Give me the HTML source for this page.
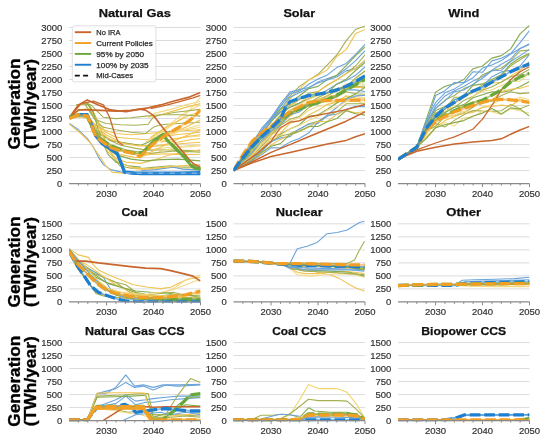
<!DOCTYPE html><html><head><meta charset="utf-8"><style>html,body{margin:0;padding:0;background:#fff;}svg{display:block;will-change:transform;}text{font-family:"Liberation Sans", sans-serif;}</style></head><body>
<svg width="550" height="444" viewBox="0 0 550 444">
<rect width="550" height="444" fill="#fff"/>
<line x1="69.0" y1="170.59" x2="200.5" y2="170.59" stroke="#dcdcdc" stroke-width="1"/>
<line x1="69.0" y1="157.58" x2="200.5" y2="157.58" stroke="#dcdcdc" stroke-width="1"/>
<line x1="69.0" y1="144.57" x2="200.5" y2="144.57" stroke="#dcdcdc" stroke-width="1"/>
<line x1="69.0" y1="131.56" x2="200.5" y2="131.56" stroke="#dcdcdc" stroke-width="1"/>
<line x1="69.0" y1="118.55" x2="200.5" y2="118.55" stroke="#dcdcdc" stroke-width="1"/>
<line x1="69.0" y1="105.54" x2="200.5" y2="105.54" stroke="#dcdcdc" stroke-width="1"/>
<line x1="69.0" y1="92.53" x2="200.5" y2="92.53" stroke="#dcdcdc" stroke-width="1"/>
<line x1="69.0" y1="79.52" x2="200.5" y2="79.52" stroke="#dcdcdc" stroke-width="1"/>
<line x1="69.0" y1="66.51" x2="200.5" y2="66.51" stroke="#dcdcdc" stroke-width="1"/>
<line x1="69.0" y1="53.50" x2="200.5" y2="53.50" stroke="#dcdcdc" stroke-width="1"/>
<line x1="69.0" y1="40.49" x2="200.5" y2="40.49" stroke="#dcdcdc" stroke-width="1"/>
<line x1="69.0" y1="27.48" x2="200.5" y2="27.48" stroke="#dcdcdc" stroke-width="1"/>
<text x="62.40" y="186.80" font-size="9.5" fill="#333" stroke="#333" stroke-width="0.2" text-anchor="end" textLength="5.28" lengthAdjust="spacingAndGlyphs">0</text>
<text x="62.40" y="173.79" font-size="9.5" fill="#333" stroke="#333" stroke-width="0.2" text-anchor="end" textLength="15.84" lengthAdjust="spacingAndGlyphs">250</text>
<text x="62.40" y="160.78" font-size="9.5" fill="#333" stroke="#333" stroke-width="0.2" text-anchor="end" textLength="15.84" lengthAdjust="spacingAndGlyphs">500</text>
<text x="62.40" y="147.77" font-size="9.5" fill="#333" stroke="#333" stroke-width="0.2" text-anchor="end" textLength="15.84" lengthAdjust="spacingAndGlyphs">750</text>
<text x="62.40" y="134.76" font-size="9.5" fill="#333" stroke="#333" stroke-width="0.2" text-anchor="end" textLength="21.12" lengthAdjust="spacingAndGlyphs">1000</text>
<text x="62.40" y="121.75" font-size="9.5" fill="#333" stroke="#333" stroke-width="0.2" text-anchor="end" textLength="21.12" lengthAdjust="spacingAndGlyphs">1250</text>
<text x="62.40" y="108.74" font-size="9.5" fill="#333" stroke="#333" stroke-width="0.2" text-anchor="end" textLength="21.12" lengthAdjust="spacingAndGlyphs">1500</text>
<text x="62.40" y="95.73" font-size="9.5" fill="#333" stroke="#333" stroke-width="0.2" text-anchor="end" textLength="21.12" lengthAdjust="spacingAndGlyphs">1750</text>
<text x="62.40" y="82.72" font-size="9.5" fill="#333" stroke="#333" stroke-width="0.2" text-anchor="end" textLength="21.12" lengthAdjust="spacingAndGlyphs">2000</text>
<text x="62.40" y="69.71" font-size="9.5" fill="#333" stroke="#333" stroke-width="0.2" text-anchor="end" textLength="21.12" lengthAdjust="spacingAndGlyphs">2250</text>
<text x="62.40" y="56.70" font-size="9.5" fill="#333" stroke="#333" stroke-width="0.2" text-anchor="end" textLength="21.12" lengthAdjust="spacingAndGlyphs">2500</text>
<text x="62.40" y="43.69" font-size="9.5" fill="#333" stroke="#333" stroke-width="0.2" text-anchor="end" textLength="21.12" lengthAdjust="spacingAndGlyphs">2750</text>
<text x="62.40" y="30.68" font-size="9.5" fill="#333" stroke="#333" stroke-width="0.2" text-anchor="end" textLength="21.12" lengthAdjust="spacingAndGlyphs">3000</text>
<clipPath id="cp00"><rect x="69.0" y="13.6" width="131.5" height="170.6"/></clipPath>
<g clip-path="url(#cp00)">
<polyline points="69.5,117.3 76.0,107.4 84.7,102.4 90.9,107.4 98.4,122.3 105.9,132.3 115.8,137.2 130.8,138.5 145.7,139.7 160.7,137.2 175.6,134.7 200.5,132.3" fill="none" stroke="#f1c452" stroke-width="1.10" stroke-linejoin="round"/>
<polyline points="69.5,117.3 85.9,117.3 95.9,124.8 103.4,129.8 115.8,133.5 130.8,134.7 148.2,133.5 160.7,132.3 178.1,131.0 200.5,129.8" fill="none" stroke="#f1c452" stroke-width="1.10" stroke-linejoin="round"/>
<polyline points="84.7,103.6 90.9,113.6 95.9,121.1 103.4,127.3 115.8,129.8 130.8,132.3 145.7,133.5 153.2,127.3 160.7,124.8 178.1,123.5 200.5,122.3" fill="none" stroke="#a6b050" stroke-width="1.10" stroke-linejoin="round"/>
<polyline points="145.7,142.2 165.6,129.8 183.1,117.3 200.5,97.4" fill="none" stroke="#f3d985" stroke-width="1.10" stroke-linejoin="round"/>
<polyline points="148.2,139.7 165.6,127.3 185.6,112.3 200.5,104.9" fill="none" stroke="#f3d985" stroke-width="1.10" stroke-linejoin="round"/>
<polyline points="150.7,137.2 170.6,124.8 190.5,114.8 200.5,112.3" fill="none" stroke="#f1c452" stroke-width="1.10" stroke-linejoin="round"/>
<polyline points="148.2,144.7 165.6,137.2 183.1,129.8 200.5,124.8" fill="none" stroke="#f3d985" stroke-width="1.10" stroke-linejoin="round"/>
<polyline points="148.2,147.2 170.6,143.5 190.5,139.7 200.5,138.5" fill="none" stroke="#f1c452" stroke-width="1.10" stroke-linejoin="round"/>
<polyline points="148.2,149.7 170.6,147.2 200.5,144.7" fill="none" stroke="#f3d985" stroke-width="1.10" stroke-linejoin="round"/>
<polyline points="69.5,123.5 78.5,129.8 88.4,139.7 93.4,147.2 98.4,157.1 103.4,164.6 110.8,169.6 123.3,172.6 140.7,172.6" fill="none" stroke="#6aa4da" stroke-width="1.10" stroke-linejoin="round"/>
<polyline points="69.5,124.3 80.9,133.5 90.9,143.5 98.4,154.6 105.9,165.8 112.1,172.1 123.3,173.3 140.7,173.1" fill="none" stroke="#f1c452" stroke-width="1.10" stroke-linejoin="round"/>
<polyline points="76.0,104.9 88.4,103.6 94.6,114.8 100.9,129.8 107.1,144.7 113.3,157.1 119.6,165.8 130.8,168.3 143.2,168.3 155.7,167.1 170.6,165.8 180.6,167.1 200.5,167.1" fill="none" stroke="#a6b050" stroke-width="1.10" stroke-linejoin="round"/>
<polyline points="135.7,170.1 155.7,168.6 173.1,166.6 183.1,168.6 200.5,169.6" fill="none" stroke="#f3d985" stroke-width="1.10" stroke-linejoin="round"/>
<polyline points="140.7,170.8 155.7,169.6 173.1,167.1 183.1,169.1 200.5,170.1" fill="none" stroke="#6aa4da" stroke-width="1.10" stroke-linejoin="round"/>
<polyline points="69.5,117.3 80.9,103.6 90.9,104.9 103.4,117.3 115.8,118.6 130.8,117.8 145.7,116.1 160.7,114.8 175.6,112.3 200.5,109.4" fill="none" stroke="#a6b050" stroke-width="1.10" stroke-linejoin="round"/>
<polyline points="95.9,124.8 105.9,134.7 120.8,142.2 135.7,144.7 148.2,146.7 165.6,145.2 183.1,143.5 200.5,142.2" fill="none" stroke="#f1c452" stroke-width="1.10" stroke-linejoin="round"/>
<polyline points="95.9,127.3 108.3,139.7 120.8,145.2 135.7,148.4 148.2,150.2 165.6,149.7 200.5,150.9" fill="none" stroke="#a6b050" stroke-width="1.10" stroke-linejoin="round"/>
<polyline points="93.4,129.8 105.9,144.7 120.8,154.6 135.7,157.6 148.2,154.6 165.6,153.7 180.6,154.6 200.5,154.2" fill="none" stroke="#f1c452" stroke-width="1.10" stroke-linejoin="round"/>
<polyline points="90.9,119.8 100.9,134.7 113.3,141.0 128.3,143.5 140.7,145.2 148.2,142.2 160.7,134.7 170.6,131.0" fill="none" stroke="#86aa4c" stroke-width="1.10" stroke-linejoin="round"/>
<polyline points="69.5,117.3 79.7,109.9 89.7,108.6 97.1,119.8 103.4,137.2 109.6,150.9 115.8,158.4 125.8,162.1 140.7,163.4 155.7,159.6 170.6,154.6 200.5,149.7" fill="none" stroke="#f1c452" stroke-width="1.10" stroke-linejoin="round"/>
<polyline points="87.2,103.6 93.4,112.3 98.4,129.8 103.4,144.7 108.3,154.6 115.8,162.1 128.3,165.8 140.7,167.1" fill="none" stroke="#86aa4c" stroke-width="1.10" stroke-linejoin="round"/>
<polyline points="150.7,142.2 170.6,139.7 185.6,137.2 200.5,136.0" fill="none" stroke="#f3d985" stroke-width="1.10" stroke-linejoin="round"/>
<polyline points="150.7,154.6 165.6,149.7 180.6,147.2 200.5,145.9" fill="none" stroke="#f3d985" stroke-width="1.10" stroke-linejoin="round"/>
<polyline points="148.2,117.3 160.7,114.8 173.1,111.1 185.6,107.4 200.5,103.6" fill="none" stroke="#f1c452" stroke-width="1.10" stroke-linejoin="round"/>
<polyline points="153.2,113.6 170.6,109.4 185.6,104.9 200.5,101.2" fill="none" stroke="#f3d985" stroke-width="1.10" stroke-linejoin="round"/>
<polyline points="88.4,117.3 98.4,129.8 108.3,138.5 123.3,143.5 138.2,145.9 148.2,145.2 158.2,138.5 170.6,133.5 185.6,127.3 200.5,119.8" fill="none" stroke="#f1c452" stroke-width="1.10" stroke-linejoin="round"/>
<polyline points="90.9,122.3 100.9,137.2 110.8,144.7 125.8,149.7 140.7,152.2 150.7,153.4 160.7,152.2 175.6,150.9 200.5,152.2" fill="none" stroke="#a6b050" stroke-width="1.10" stroke-linejoin="round"/>
<polyline points="93.4,126.0 103.4,141.0 115.8,148.4 130.8,152.2 145.7,154.6 155.7,149.7 170.6,142.2 185.6,136.0 200.5,129.8" fill="none" stroke="#f1c452" stroke-width="1.10" stroke-linejoin="round"/>
<polyline points="95.9,129.8 105.9,147.2 115.8,154.6 130.8,159.1 145.7,160.9 160.7,159.6 178.1,159.1 200.5,160.9" fill="none" stroke="#86aa4c" stroke-width="1.10" stroke-linejoin="round"/>
<polyline points="98.4,137.2 108.3,152.2 118.3,162.1 130.8,167.1 145.7,169.1 160.7,167.6 180.6,165.8 200.5,164.6" fill="none" stroke="#f1c452" stroke-width="1.10" stroke-linejoin="round"/>
<polyline points="89.7,109.9 95.9,119.8 105.9,123.5 120.8,124.8 135.7,125.3 148.2,124.3 153.2,117.3 160.7,114.8 180.6,114.8 200.5,116.1" fill="none" stroke="#a6b050" stroke-width="1.10" stroke-linejoin="round"/>
<polyline points="155.7,137.2 170.6,133.5 185.6,129.8 200.5,127.3" fill="none" stroke="#f3d985" stroke-width="1.10" stroke-linejoin="round"/>
<polyline points="160.7,142.2 175.6,138.5 190.5,136.0 200.5,134.7" fill="none" stroke="#f1c452" stroke-width="1.10" stroke-linejoin="round"/>
<polyline points="69.5,117.3 80.9,103.6 93.4,101.2 103.4,104.9 109.6,117.3 114.6,133.5 118.3,142.2 123.3,145.2" fill="none" stroke="#c8662e" stroke-width="1.30" stroke-linejoin="round"/>
<polyline points="69.5,117.3 78.5,109.9 88.4,109.9 100.9,110.4 115.8,111.1 130.8,110.4 140.0,109.1 145.5,110.1 153.4,115.3 160.4,124.8 167.1,133.0 173.9,141.2 180.6,149.2 185.1,154.6 190.5,161.1 195.0,164.8 200.5,167.1" fill="none" stroke="#c8662e" stroke-width="1.60" stroke-linejoin="round"/>
<polyline points="69.5,117.3 78.5,104.9 87.2,99.9 98.4,104.9 110.8,109.9 125.8,111.8 140.0,109.1 148.2,107.9 160.7,104.9 173.1,101.2 188.1,97.4 200.5,92.4" fill="none" stroke="#c8662e" stroke-width="1.60" stroke-linejoin="round"/>
<polyline points="150.7,108.6 165.6,105.4 180.6,101.4 193.0,97.9 200.5,95.4" fill="none" stroke="#c8662e" stroke-width="1.20" stroke-linejoin="round"/>
<polyline points="69.5,117.3 78.5,114.8 87.2,114.8 90.9,123.5 95.9,136.0 102.1,143.5 109.6,148.4 117.1,153.4 120.8,162.1 124.5,172.1 135.7,173.3 153.2,173.3 178.1,173.3 200.5,172.8" fill="none" stroke="#1f7fcf" stroke-width="3.40" stroke-linejoin="round"/>
<polyline points="124.5,172.6 140.7,174.1 165.6,174.1 200.5,174.1" fill="none" stroke="#1f7fcf" stroke-width="2.50" stroke-linejoin="round"/>
<polyline points="125.8,173.1 200.5,173.1" fill="none" stroke="#9cc6ea" stroke-width="0.55" stroke-linejoin="round" stroke-opacity="0.55"/>
<polyline points="125.8,173.1 200.5,173.1" fill="none" stroke="#9cc6ea" stroke-width="1.00" stroke-linejoin="round" stroke-dasharray="5,6"/>
<polyline points="146.7,147.7 153.4,141.2 160.4,135.7 163.1,134.2 166.9,139.7 173.9,146.4 180.6,153.2 185.1,157.4 190.5,164.8 195.0,167.6 200.5,168.3" fill="none" stroke="#68a83a" stroke-width="2.20" stroke-linejoin="round"/>
<polyline points="147.2,148.7 153.9,142.2 160.9,136.7 163.6,135.2 167.4,140.7 174.4,147.4 181.1,154.2 185.6,158.4 191.0,165.8 195.5,168.6 201.0,169.3" fill="none" stroke="#68a83a" stroke-width="2.20" stroke-linejoin="round"/>
<polyline points="69.5,117.3 78.5,114.8 87.2,116.1 90.9,124.8 94.6,132.8 100.9,139.7 110.8,145.9 123.3,150.9 135.7,153.4 143.2,152.2 147.0,148.2 153.7,141.7 160.7,136.2 163.4,134.7 167.1,140.2 174.1,146.9 180.8,153.7 185.3,157.9 190.8,165.3 195.3,168.1 200.8,168.8" fill="none" stroke="#68a83a" stroke-width="1.81" stroke-linejoin="round" stroke-opacity="0.55"/>
<polyline points="69.5,117.3 78.5,114.8 87.2,116.1 90.9,124.8 94.6,132.8 100.9,139.7 110.8,145.9 123.3,150.9 135.7,153.4 143.2,152.2 147.0,148.2 153.7,141.7 160.7,136.2 163.4,134.7 167.1,140.2 174.1,146.9 180.8,153.7 185.3,157.9 190.8,165.3 195.3,168.1 200.8,168.8" fill="none" stroke="#68a83a" stroke-width="3.30" stroke-linejoin="round" stroke-dasharray="10.7,3.8"/>
<polyline points="69.5,118.6 78.5,114.8 87.2,116.1 90.9,123.5 94.6,133.5 99.6,139.7 109.6,147.2 120.8,150.9 133.3,153.4 140.0,156.6 146.7,150.4 153.4,143.7 160.4,139.0 167.1,134.2 173.9,130.3 180.6,126.3 185.1,123.5 190.5,119.8 195.5,115.3 200.5,109.9" fill="none" stroke="#f29f25" stroke-width="1.81" stroke-linejoin="round" stroke-opacity="0.55"/>
<polyline points="69.5,118.6 78.5,114.8 87.2,116.1 90.9,123.5 94.6,133.5 99.6,139.7 109.6,147.2 120.8,150.9 133.3,153.4 140.0,156.6 146.7,150.4 153.4,143.7 160.4,139.0 167.1,134.2 173.9,130.3 180.6,126.3 185.1,123.5 190.5,119.8 195.5,115.3 200.5,109.9" fill="none" stroke="#f29f25" stroke-width="3.30" stroke-linejoin="round" stroke-dasharray="10.7,3.8"/>
</g>
<line x1="69.0" y1="183.60" x2="200.5" y2="183.60" stroke="#8a8a8a" stroke-width="1.1"/>
<line x1="78.39" y1="183.60" x2="78.39" y2="185.60" stroke="#8a8a8a" stroke-width="1"/>
<line x1="87.79" y1="183.60" x2="87.79" y2="185.60" stroke="#8a8a8a" stroke-width="1"/>
<line x1="97.18" y1="183.60" x2="97.18" y2="185.60" stroke="#8a8a8a" stroke-width="1"/>
<line x1="106.57" y1="183.60" x2="106.57" y2="187.10" stroke="#8a8a8a" stroke-width="1"/>
<line x1="115.96" y1="183.60" x2="115.96" y2="185.60" stroke="#8a8a8a" stroke-width="1"/>
<line x1="125.36" y1="183.60" x2="125.36" y2="185.60" stroke="#8a8a8a" stroke-width="1"/>
<line x1="134.75" y1="183.60" x2="134.75" y2="185.60" stroke="#8a8a8a" stroke-width="1"/>
<line x1="144.14" y1="183.60" x2="144.14" y2="185.60" stroke="#8a8a8a" stroke-width="1"/>
<line x1="153.54" y1="183.60" x2="153.54" y2="187.10" stroke="#8a8a8a" stroke-width="1"/>
<line x1="162.93" y1="183.60" x2="162.93" y2="185.60" stroke="#8a8a8a" stroke-width="1"/>
<line x1="172.32" y1="183.60" x2="172.32" y2="185.60" stroke="#8a8a8a" stroke-width="1"/>
<line x1="181.71" y1="183.60" x2="181.71" y2="185.60" stroke="#8a8a8a" stroke-width="1"/>
<line x1="191.11" y1="183.60" x2="191.11" y2="185.60" stroke="#8a8a8a" stroke-width="1"/>
<line x1="200.50" y1="183.60" x2="200.50" y2="187.10" stroke="#8a8a8a" stroke-width="1"/>
<text x="106.57" y="196.80" font-size="9.5" fill="#333" stroke="#333" stroke-width="0.2" text-anchor="middle" textLength="21.12" lengthAdjust="spacingAndGlyphs">2030</text>
<text x="153.54" y="196.80" font-size="9.5" fill="#333" stroke="#333" stroke-width="0.2" text-anchor="middle" textLength="21.12" lengthAdjust="spacingAndGlyphs">2040</text>
<text x="200.50" y="196.80" font-size="9.5" fill="#333" stroke="#333" stroke-width="0.2" text-anchor="middle" textLength="21.12" lengthAdjust="spacingAndGlyphs">2050</text>
<text x="134.75" y="16.60" font-size="11.6" font-weight="bold" fill="#111" stroke="#111" stroke-width="0.25" text-anchor="middle" textLength="72.17" lengthAdjust="spacingAndGlyphs">Natural Gas</text>
<line x1="233.5" y1="170.59" x2="365.0" y2="170.59" stroke="#dcdcdc" stroke-width="1"/>
<line x1="233.5" y1="157.58" x2="365.0" y2="157.58" stroke="#dcdcdc" stroke-width="1"/>
<line x1="233.5" y1="144.57" x2="365.0" y2="144.57" stroke="#dcdcdc" stroke-width="1"/>
<line x1="233.5" y1="131.56" x2="365.0" y2="131.56" stroke="#dcdcdc" stroke-width="1"/>
<line x1="233.5" y1="118.55" x2="365.0" y2="118.55" stroke="#dcdcdc" stroke-width="1"/>
<line x1="233.5" y1="105.54" x2="365.0" y2="105.54" stroke="#dcdcdc" stroke-width="1"/>
<line x1="233.5" y1="92.53" x2="365.0" y2="92.53" stroke="#dcdcdc" stroke-width="1"/>
<line x1="233.5" y1="79.52" x2="365.0" y2="79.52" stroke="#dcdcdc" stroke-width="1"/>
<line x1="233.5" y1="66.51" x2="365.0" y2="66.51" stroke="#dcdcdc" stroke-width="1"/>
<line x1="233.5" y1="53.50" x2="365.0" y2="53.50" stroke="#dcdcdc" stroke-width="1"/>
<line x1="233.5" y1="40.49" x2="365.0" y2="40.49" stroke="#dcdcdc" stroke-width="1"/>
<line x1="233.5" y1="27.48" x2="365.0" y2="27.48" stroke="#dcdcdc" stroke-width="1"/>
<text x="226.90" y="186.80" font-size="9.5" fill="#333" stroke="#333" stroke-width="0.2" text-anchor="end" textLength="5.28" lengthAdjust="spacingAndGlyphs">0</text>
<text x="226.90" y="173.79" font-size="9.5" fill="#333" stroke="#333" stroke-width="0.2" text-anchor="end" textLength="15.84" lengthAdjust="spacingAndGlyphs">250</text>
<text x="226.90" y="160.78" font-size="9.5" fill="#333" stroke="#333" stroke-width="0.2" text-anchor="end" textLength="15.84" lengthAdjust="spacingAndGlyphs">500</text>
<text x="226.90" y="147.77" font-size="9.5" fill="#333" stroke="#333" stroke-width="0.2" text-anchor="end" textLength="15.84" lengthAdjust="spacingAndGlyphs">750</text>
<text x="226.90" y="134.76" font-size="9.5" fill="#333" stroke="#333" stroke-width="0.2" text-anchor="end" textLength="21.12" lengthAdjust="spacingAndGlyphs">1000</text>
<text x="226.90" y="121.75" font-size="9.5" fill="#333" stroke="#333" stroke-width="0.2" text-anchor="end" textLength="21.12" lengthAdjust="spacingAndGlyphs">1250</text>
<text x="226.90" y="108.74" font-size="9.5" fill="#333" stroke="#333" stroke-width="0.2" text-anchor="end" textLength="21.12" lengthAdjust="spacingAndGlyphs">1500</text>
<text x="226.90" y="95.73" font-size="9.5" fill="#333" stroke="#333" stroke-width="0.2" text-anchor="end" textLength="21.12" lengthAdjust="spacingAndGlyphs">1750</text>
<text x="226.90" y="82.72" font-size="9.5" fill="#333" stroke="#333" stroke-width="0.2" text-anchor="end" textLength="21.12" lengthAdjust="spacingAndGlyphs">2000</text>
<text x="226.90" y="69.71" font-size="9.5" fill="#333" stroke="#333" stroke-width="0.2" text-anchor="end" textLength="21.12" lengthAdjust="spacingAndGlyphs">2250</text>
<text x="226.90" y="56.70" font-size="9.5" fill="#333" stroke="#333" stroke-width="0.2" text-anchor="end" textLength="21.12" lengthAdjust="spacingAndGlyphs">2500</text>
<text x="226.90" y="43.69" font-size="9.5" fill="#333" stroke="#333" stroke-width="0.2" text-anchor="end" textLength="21.12" lengthAdjust="spacingAndGlyphs">2750</text>
<text x="226.90" y="30.68" font-size="9.5" fill="#333" stroke="#333" stroke-width="0.2" text-anchor="end" textLength="21.12" lengthAdjust="spacingAndGlyphs">3000</text>
<clipPath id="cp01"><rect x="233.5" y="13.6" width="131.5" height="170.6"/></clipPath>
<g clip-path="url(#cp01)">
<polyline points="233.5,170.6 242.9,158.4 252.3,146.1 261.7,133.2 271.1,120.2 280.5,105.6 289.9,96.1 299.2,86.6 308.6,80.1 318.0,74.3 327.4,64.9 336.8,55.0 346.2,40.6 355.6,29.5 365.0,26.0" fill="none" stroke="#a6b050" stroke-width="1.10" stroke-linejoin="round"/>
<polyline points="233.5,170.6 242.9,158.9 252.3,147.2 261.7,134.5 271.1,119.6 280.5,111.2 289.9,99.0 299.2,89.3 308.6,80.0 318.0,75.3 327.4,69.6 336.8,56.5 346.2,49.6 355.6,33.6 365.0,29.5" fill="none" stroke="#f1c452" stroke-width="1.10" stroke-linejoin="round"/>
<polyline points="233.5,170.6 242.9,156.3 252.3,142.0 261.7,130.6 271.1,117.7 280.5,106.4 289.9,93.7 299.2,91.4 308.6,84.3 318.0,78.9 327.4,74.9 336.8,67.6 346.2,63.4 355.6,54.3 365.0,44.5" fill="none" stroke="#6aa4da" stroke-width="1.10" stroke-linejoin="round"/>
<polyline points="233.5,170.6 242.9,157.3 252.3,144.0 261.7,130.5 271.1,118.9 280.5,109.0 289.9,97.3 299.2,92.7 308.6,88.3 318.0,82.0 327.4,78.6 336.8,75.5 346.2,68.8 355.6,60.7 365.0,50.7" fill="none" stroke="#6aa4da" stroke-width="1.10" stroke-linejoin="round"/>
<polyline points="233.5,170.6 242.9,158.9 252.3,147.2 261.7,133.1 271.1,122.1 280.5,109.0 289.9,103.2 299.2,96.0 308.6,88.7 318.0,86.4 327.4,79.6 336.8,75.2 346.2,65.7 355.6,55.6 365.0,46.9" fill="none" stroke="#86aa4c" stroke-width="1.10" stroke-linejoin="round"/>
<polyline points="233.5,170.6 242.9,156.8 252.3,143.0 261.7,128.2 271.1,117.9 280.5,103.8 289.9,92.1 299.2,89.6 308.6,87.5 318.0,83.1 327.4,80.0 336.8,77.0 346.2,70.9 355.6,68.6 365.0,60.4" fill="none" stroke="#6aa4da" stroke-width="1.10" stroke-linejoin="round"/>
<polyline points="233.5,170.6 242.9,159.1 252.3,147.7 261.7,135.0 271.1,121.4 280.5,112.6 289.9,105.5 299.2,99.8 308.6,93.3 318.0,91.6 327.4,84.9 336.8,79.8 346.2,73.5 355.6,66.0 365.0,54.8" fill="none" stroke="#a6b050" stroke-width="1.10" stroke-linejoin="round"/>
<polyline points="233.5,170.6 242.9,159.4 252.3,148.2 261.7,138.5 271.1,126.5 280.5,116.5 289.9,104.8 299.2,103.3 308.6,96.4 318.0,91.5 327.4,85.5 336.8,79.8 346.2,73.7 355.6,68.6 365.0,60.1" fill="none" stroke="#f1c452" stroke-width="1.10" stroke-linejoin="round"/>
<polyline points="233.5,170.6 242.9,158.4 252.3,146.1 261.7,134.8 271.1,120.4 280.5,111.7 289.9,107.2 299.2,103.2 308.6,99.0 318.0,95.1 327.4,90.0 336.8,84.3 346.2,80.6 355.6,75.3 365.0,66.9" fill="none" stroke="#6aa4da" stroke-width="1.10" stroke-linejoin="round"/>
<polyline points="233.5,170.6 242.9,159.9 252.3,149.3 261.7,138.4 271.1,126.0 280.5,115.1 289.9,107.2 299.2,103.6 308.6,98.7 318.0,94.3 327.4,93.1 336.8,83.9 346.2,79.2 355.6,70.5 365.0,62.5" fill="none" stroke="#86aa4c" stroke-width="1.10" stroke-linejoin="round"/>
<polyline points="233.5,170.6 242.9,160.2 252.3,149.8 261.7,139.6 271.1,128.9 280.5,121.4 289.9,110.1 299.2,108.1 308.6,103.4 318.0,99.1 327.4,95.7 336.8,90.2 346.2,86.8 355.6,79.3 365.0,70.7" fill="none" stroke="#f3d985" stroke-width="1.10" stroke-linejoin="round"/>
<polyline points="233.5,170.6 242.9,160.4 252.3,150.3 261.7,141.8 271.1,130.1 280.5,122.9 289.9,110.0 299.2,106.8 308.6,104.6 318.0,100.2 327.4,95.8 336.8,91.1 346.2,87.5 355.6,77.9 365.0,71.0" fill="none" stroke="#a6b050" stroke-width="1.10" stroke-linejoin="round"/>
<polyline points="233.5,170.6 242.9,161.0 252.3,151.3 261.7,141.6 271.1,131.6 280.5,124.9 289.9,116.2 299.2,110.2 308.6,105.6 318.0,99.3 327.4,98.8 336.8,95.3 346.2,86.8 355.6,82.8 365.0,78.6" fill="none" stroke="#f1c452" stroke-width="1.10" stroke-linejoin="round"/>
<polyline points="233.5,170.6 242.9,161.5 252.3,152.4 261.7,142.3 271.1,134.8 280.5,124.1 289.9,113.7 299.2,109.6 308.6,105.7 318.0,104.1 327.4,99.9 336.8,96.2 346.2,88.7 355.6,84.6 365.0,78.2" fill="none" stroke="#86aa4c" stroke-width="1.10" stroke-linejoin="round"/>
<polyline points="233.5,170.6 242.9,161.5 252.3,152.4 261.7,141.6 271.1,130.5 280.5,119.2 289.9,109.8 299.2,104.7 308.6,99.2 318.0,95.4 327.4,92.0 336.8,89.9 346.2,83.9 355.6,83.7 365.0,84.3" fill="none" stroke="#f3d985" stroke-width="1.10" stroke-linejoin="round"/>
<polyline points="233.5,170.6 242.9,162.0 252.3,153.4 261.7,144.4 271.1,132.0 280.5,124.0 289.9,114.0 299.2,107.0 308.6,103.7 318.0,97.4 327.4,93.2 336.8,88.7 346.2,86.9 355.6,86.8 365.0,86.0" fill="none" stroke="#a6b050" stroke-width="1.10" stroke-linejoin="round"/>
<polyline points="233.5,170.6 242.9,162.3 252.3,153.9 261.7,144.4 271.1,133.5 280.5,124.1 289.9,115.3 299.2,109.9 308.6,105.8 318.0,101.0 327.4,96.3 336.8,95.4 346.2,88.4 355.6,87.1 365.0,87.6" fill="none" stroke="#f1c452" stroke-width="1.10" stroke-linejoin="round"/>
<polyline points="233.5,170.6 242.9,161.5 252.3,152.4 261.7,140.5 271.1,131.0 280.5,125.0 289.9,114.7 299.2,112.0 308.6,104.9 318.0,101.2 327.4,101.1 336.8,96.8 346.2,89.9 355.6,89.9 365.0,91.5" fill="none" stroke="#6aa4da" stroke-width="1.10" stroke-linejoin="round"/>
<polyline points="233.5,170.6 242.9,162.8 252.3,155.0 261.7,146.4 271.1,136.0 280.5,125.6 289.9,119.2 299.2,116.6 308.6,107.7 318.0,102.6 327.4,99.9 336.8,97.0 346.2,91.8 355.6,93.7 365.0,94.3" fill="none" stroke="#a6b050" stroke-width="1.10" stroke-linejoin="round"/>
<polyline points="233.5,170.6 242.9,163.0 252.3,155.5 261.7,143.6 271.1,135.4 280.5,129.4 289.9,120.9 299.2,117.8 308.6,110.3 318.0,106.2 327.4,104.8 336.8,100.6 346.2,96.4 355.6,96.5 365.0,94.7" fill="none" stroke="#f3d985" stroke-width="1.10" stroke-linejoin="round"/>
<polyline points="233.5,170.6 242.9,163.6 252.3,156.5 261.7,148.3 271.1,138.2 280.5,133.2 289.9,123.3 299.2,120.7 308.6,115.1 318.0,110.2 327.4,104.4 336.8,102.4 346.2,95.8 355.6,98.0 365.0,98.1" fill="none" stroke="#f1c452" stroke-width="1.10" stroke-linejoin="round"/>
<polyline points="233.5,170.6 242.9,164.1 252.3,157.6 261.7,148.7 271.1,142.3 280.5,134.1 289.9,129.0 299.2,125.0 308.6,116.4 318.0,115.0 327.4,109.3 336.8,103.0 346.2,98.6 355.6,93.9 365.0,87.2" fill="none" stroke="#86aa4c" stroke-width="1.10" stroke-linejoin="round"/>
<polyline points="233.5,170.6 242.9,165.4 252.3,160.2 261.7,154.5 271.1,147.9 280.5,147.7 289.9,142.1 299.2,138.4 308.6,133.1 318.0,122.2 327.4,114.9 336.8,107.5 346.2,99.4 355.6,95.9 365.0,95.4" fill="none" stroke="#6aa4da" stroke-width="1.10" stroke-linejoin="round"/>
<polyline points="233.5,170.6 242.9,164.1 252.3,157.6 261.7,148.9 271.1,141.2 280.5,135.5 289.9,128.9 299.2,125.4 308.6,120.5 318.0,116.4 327.4,110.0 336.8,106.8 346.2,101.7 355.6,100.9 365.0,103.5" fill="none" stroke="#f3d985" stroke-width="1.10" stroke-linejoin="round"/>
<polyline points="233.5,170.6 242.9,164.6 252.3,158.6 261.7,150.8 271.1,141.5 280.5,136.2 289.9,133.8 299.2,129.6 308.6,123.8 318.0,121.2 327.4,116.1 336.8,111.8 346.2,103.8 355.6,103.7 365.0,103.7" fill="none" stroke="#a6b050" stroke-width="1.10" stroke-linejoin="round"/>
<polyline points="233.5,170.6 242.9,164.1 252.3,157.6 261.7,151.6 271.1,141.4 280.5,137.9 289.9,136.6 299.2,128.9 308.6,124.2 318.0,123.4 327.4,115.7 336.8,114.0 346.2,109.2 355.6,106.4 365.0,106.6" fill="none" stroke="#6aa4da" stroke-width="1.10" stroke-linejoin="round"/>
<polyline points="233.5,170.6 242.9,164.9 252.3,159.1 261.7,153.5 271.1,145.0 280.5,139.4 289.9,135.1 299.2,131.8 308.6,127.2 318.0,121.6 327.4,121.2 336.8,114.4 346.2,110.6 355.6,112.8 365.0,111.5" fill="none" stroke="#f1c452" stroke-width="1.10" stroke-linejoin="round"/>
<polyline points="233.5,170.6 242.9,165.1 252.3,159.7 261.7,152.4 271.1,146.3 280.5,143.6 289.9,134.4 299.2,131.3 308.6,126.4 318.0,126.5 327.4,121.7 336.8,118.5 346.2,110.7 355.6,113.8 365.0,115.1" fill="none" stroke="#86aa4c" stroke-width="1.10" stroke-linejoin="round"/>
<polyline points="233.5,170.6 252.3,162.8 271.1,156.5 289.9,152.4 308.6,148.2 327.4,144.0 346.2,140.4 355.6,136.8 365.0,133.6" fill="none" stroke="#c8662e" stroke-width="1.50" stroke-linejoin="round"/>
<polyline points="233.5,170.6 252.3,161.7 271.1,152.4 289.9,144.6 308.6,136.8 327.4,129.0 346.2,121.2 365.0,111.8" fill="none" stroke="#c8662e" stroke-width="1.50" stroke-linejoin="round"/>
<polyline points="233.5,170.6 257.0,153.4 271.1,141.2 280.5,127.7 289.9,122.2 299.2,120.8 308.6,117.0 327.4,113.3 346.2,109.7 365.0,104.5" fill="none" stroke="#c8662e" stroke-width="1.30" stroke-linejoin="round"/>
<polyline points="233.5,170.6 242.9,158.6 252.3,147.2 261.7,136.8 271.1,127.4 280.5,119.6 289.9,113.3 299.2,109.2 308.6,105.5 318.0,102.4 327.4,99.3 336.8,95.1 346.2,89.9 355.6,84.7 365.0,79.5" fill="none" stroke="#68a83a" stroke-width="1.81" stroke-linejoin="round" stroke-opacity="0.55"/>
<polyline points="233.5,170.6 242.9,158.6 252.3,147.2 261.7,136.8 271.1,127.4 280.5,119.6 289.9,113.3 299.2,109.2 308.6,105.5 318.0,102.4 327.4,99.3 336.8,95.1 346.2,89.9 355.6,84.7 365.0,79.5" fill="none" stroke="#68a83a" stroke-width="3.30" stroke-linejoin="round" stroke-dasharray="10.7,3.8"/>
<polyline points="233.5,170.6 242.9,154.8 252.3,141.2 261.7,132.6 271.1,126.4 280.5,118.0 289.9,111.8 299.2,107.1 308.6,102.4 318.0,100.9 327.4,100.6 336.8,100.3 346.2,100.1 355.6,100.1 365.0,100.1" fill="none" stroke="#f29f25" stroke-width="1.81" stroke-linejoin="round" stroke-opacity="0.55"/>
<polyline points="233.5,170.6 242.9,154.8 252.3,141.2 261.7,132.6 271.1,126.4 280.5,118.0 289.9,111.8 299.2,107.1 308.6,102.4 318.0,100.9 327.4,100.6 336.8,100.3 346.2,100.1 355.6,100.1 365.0,100.1" fill="none" stroke="#f29f25" stroke-width="3.30" stroke-linejoin="round" stroke-dasharray="10.7,3.8"/>
<polyline points="233.5,170.6 242.9,157.6 252.3,146.1 261.7,136.8 271.1,128.4 280.5,119.1 285.2,108.1 289.9,101.9 299.2,98.3 308.6,95.7 318.0,94.1 327.4,92.5 336.8,89.9 346.2,86.3 355.6,81.6 365.0,75.9" fill="none" stroke="#1f7fcf" stroke-width="1.81" stroke-linejoin="round" stroke-opacity="0.55"/>
<polyline points="233.5,170.6 242.9,157.6 252.3,146.1 261.7,136.8 271.1,128.4 280.5,119.1 285.2,108.1 289.9,101.9 299.2,98.3 308.6,95.7 318.0,94.1 327.4,92.5 336.8,89.9 346.2,86.3 355.6,81.6 365.0,75.9" fill="none" stroke="#1f7fcf" stroke-width="3.30" stroke-linejoin="round" stroke-dasharray="10.7,3.8"/>
</g>
<line x1="233.5" y1="183.60" x2="365.0" y2="183.60" stroke="#8a8a8a" stroke-width="1.1"/>
<line x1="242.89" y1="183.60" x2="242.89" y2="185.60" stroke="#8a8a8a" stroke-width="1"/>
<line x1="252.29" y1="183.60" x2="252.29" y2="185.60" stroke="#8a8a8a" stroke-width="1"/>
<line x1="261.68" y1="183.60" x2="261.68" y2="185.60" stroke="#8a8a8a" stroke-width="1"/>
<line x1="271.07" y1="183.60" x2="271.07" y2="187.10" stroke="#8a8a8a" stroke-width="1"/>
<line x1="280.46" y1="183.60" x2="280.46" y2="185.60" stroke="#8a8a8a" stroke-width="1"/>
<line x1="289.86" y1="183.60" x2="289.86" y2="185.60" stroke="#8a8a8a" stroke-width="1"/>
<line x1="299.25" y1="183.60" x2="299.25" y2="185.60" stroke="#8a8a8a" stroke-width="1"/>
<line x1="308.64" y1="183.60" x2="308.64" y2="185.60" stroke="#8a8a8a" stroke-width="1"/>
<line x1="318.04" y1="183.60" x2="318.04" y2="187.10" stroke="#8a8a8a" stroke-width="1"/>
<line x1="327.43" y1="183.60" x2="327.43" y2="185.60" stroke="#8a8a8a" stroke-width="1"/>
<line x1="336.82" y1="183.60" x2="336.82" y2="185.60" stroke="#8a8a8a" stroke-width="1"/>
<line x1="346.21" y1="183.60" x2="346.21" y2="185.60" stroke="#8a8a8a" stroke-width="1"/>
<line x1="355.61" y1="183.60" x2="355.61" y2="185.60" stroke="#8a8a8a" stroke-width="1"/>
<line x1="365.00" y1="183.60" x2="365.00" y2="187.10" stroke="#8a8a8a" stroke-width="1"/>
<text x="271.07" y="196.80" font-size="9.5" fill="#333" stroke="#333" stroke-width="0.2" text-anchor="middle" textLength="21.12" lengthAdjust="spacingAndGlyphs">2030</text>
<text x="318.04" y="196.80" font-size="9.5" fill="#333" stroke="#333" stroke-width="0.2" text-anchor="middle" textLength="21.12" lengthAdjust="spacingAndGlyphs">2040</text>
<text x="365.00" y="196.80" font-size="9.5" fill="#333" stroke="#333" stroke-width="0.2" text-anchor="middle" textLength="21.12" lengthAdjust="spacingAndGlyphs">2050</text>
<text x="299.25" y="16.60" font-size="11.6" font-weight="bold" fill="#111" stroke="#111" stroke-width="0.25" text-anchor="middle" textLength="31.66" lengthAdjust="spacingAndGlyphs">Solar</text>
<line x1="398.0" y1="170.59" x2="529.5" y2="170.59" stroke="#dcdcdc" stroke-width="1"/>
<line x1="398.0" y1="157.58" x2="529.5" y2="157.58" stroke="#dcdcdc" stroke-width="1"/>
<line x1="398.0" y1="144.57" x2="529.5" y2="144.57" stroke="#dcdcdc" stroke-width="1"/>
<line x1="398.0" y1="131.56" x2="529.5" y2="131.56" stroke="#dcdcdc" stroke-width="1"/>
<line x1="398.0" y1="118.55" x2="529.5" y2="118.55" stroke="#dcdcdc" stroke-width="1"/>
<line x1="398.0" y1="105.54" x2="529.5" y2="105.54" stroke="#dcdcdc" stroke-width="1"/>
<line x1="398.0" y1="92.53" x2="529.5" y2="92.53" stroke="#dcdcdc" stroke-width="1"/>
<line x1="398.0" y1="79.52" x2="529.5" y2="79.52" stroke="#dcdcdc" stroke-width="1"/>
<line x1="398.0" y1="66.51" x2="529.5" y2="66.51" stroke="#dcdcdc" stroke-width="1"/>
<line x1="398.0" y1="53.50" x2="529.5" y2="53.50" stroke="#dcdcdc" stroke-width="1"/>
<line x1="398.0" y1="40.49" x2="529.5" y2="40.49" stroke="#dcdcdc" stroke-width="1"/>
<line x1="398.0" y1="27.48" x2="529.5" y2="27.48" stroke="#dcdcdc" stroke-width="1"/>
<text x="391.40" y="186.80" font-size="9.5" fill="#333" stroke="#333" stroke-width="0.2" text-anchor="end" textLength="5.28" lengthAdjust="spacingAndGlyphs">0</text>
<text x="391.40" y="173.79" font-size="9.5" fill="#333" stroke="#333" stroke-width="0.2" text-anchor="end" textLength="15.84" lengthAdjust="spacingAndGlyphs">250</text>
<text x="391.40" y="160.78" font-size="9.5" fill="#333" stroke="#333" stroke-width="0.2" text-anchor="end" textLength="15.84" lengthAdjust="spacingAndGlyphs">500</text>
<text x="391.40" y="147.77" font-size="9.5" fill="#333" stroke="#333" stroke-width="0.2" text-anchor="end" textLength="15.84" lengthAdjust="spacingAndGlyphs">750</text>
<text x="391.40" y="134.76" font-size="9.5" fill="#333" stroke="#333" stroke-width="0.2" text-anchor="end" textLength="21.12" lengthAdjust="spacingAndGlyphs">1000</text>
<text x="391.40" y="121.75" font-size="9.5" fill="#333" stroke="#333" stroke-width="0.2" text-anchor="end" textLength="21.12" lengthAdjust="spacingAndGlyphs">1250</text>
<text x="391.40" y="108.74" font-size="9.5" fill="#333" stroke="#333" stroke-width="0.2" text-anchor="end" textLength="21.12" lengthAdjust="spacingAndGlyphs">1500</text>
<text x="391.40" y="95.73" font-size="9.5" fill="#333" stroke="#333" stroke-width="0.2" text-anchor="end" textLength="21.12" lengthAdjust="spacingAndGlyphs">1750</text>
<text x="391.40" y="82.72" font-size="9.5" fill="#333" stroke="#333" stroke-width="0.2" text-anchor="end" textLength="21.12" lengthAdjust="spacingAndGlyphs">2000</text>
<text x="391.40" y="69.71" font-size="9.5" fill="#333" stroke="#333" stroke-width="0.2" text-anchor="end" textLength="21.12" lengthAdjust="spacingAndGlyphs">2250</text>
<text x="391.40" y="56.70" font-size="9.5" fill="#333" stroke="#333" stroke-width="0.2" text-anchor="end" textLength="21.12" lengthAdjust="spacingAndGlyphs">2500</text>
<text x="391.40" y="43.69" font-size="9.5" fill="#333" stroke="#333" stroke-width="0.2" text-anchor="end" textLength="21.12" lengthAdjust="spacingAndGlyphs">2750</text>
<text x="391.40" y="30.68" font-size="9.5" fill="#333" stroke="#333" stroke-width="0.2" text-anchor="end" textLength="21.12" lengthAdjust="spacingAndGlyphs">3000</text>
<clipPath id="cp02"><rect x="398.0" y="13.6" width="131.5" height="170.6"/></clipPath>
<g clip-path="url(#cp02)">
<polyline points="398.0,159.4 407.4,153.4 416.8,147.2 426.2,119.6 435.6,92.1 445.0,86.3 454.4,83.9 463.8,79.5 473.1,68.7 482.5,66.0 491.9,58.1 501.3,55.6 510.7,48.9 520.1,33.9 529.5,25.4" fill="none" stroke="#86aa4c" stroke-width="1.10" stroke-linejoin="round"/>
<polyline points="398.0,159.4 407.4,153.4 416.8,147.2 426.2,123.9 435.6,95.5 445.0,90.7 454.4,82.5 463.8,82.6 473.1,71.7 482.5,72.3 491.9,60.9 501.3,58.3 510.7,53.6 520.1,42.7 529.5,30.6" fill="none" stroke="#6aa4da" stroke-width="1.10" stroke-linejoin="round"/>
<polyline points="398.0,159.4 407.4,153.4 416.8,147.2 426.2,124.1 435.6,105.9 445.0,95.9 454.4,90.8 463.8,86.5 473.1,80.9 482.5,76.6 491.9,70.2 501.3,64.2 510.7,59.1 520.1,48.5 529.5,44.6" fill="none" stroke="#6aa4da" stroke-width="1.10" stroke-linejoin="round"/>
<polyline points="398.0,159.4 407.4,153.4 416.8,147.2 426.2,124.1 435.6,108.3 445.0,100.1 454.4,95.5 463.8,88.6 473.1,85.1 482.5,74.7 491.9,70.8 501.3,68.3 510.7,61.0 520.1,50.9 529.5,50.1" fill="none" stroke="#a6b050" stroke-width="1.10" stroke-linejoin="round"/>
<polyline points="398.0,159.4 407.4,153.4 416.8,147.2 426.2,122.7 435.6,108.2 445.0,100.9 454.4,91.7 463.8,90.0 473.1,84.3 482.5,78.2 491.9,70.8 501.3,70.3 510.7,61.5 520.1,55.6 529.5,49.4" fill="none" stroke="#6aa4da" stroke-width="1.10" stroke-linejoin="round"/>
<polyline points="398.0,159.4 407.4,153.4 416.8,147.2 426.2,126.4 435.6,110.6 445.0,106.6 454.4,99.9 463.8,95.3 473.1,85.4 482.5,83.9 491.9,79.4 501.3,74.7 510.7,64.0 520.1,57.8 529.5,53.3" fill="none" stroke="#86aa4c" stroke-width="1.10" stroke-linejoin="round"/>
<polyline points="398.0,159.4 407.4,153.4 416.8,147.2 426.2,128.7 435.6,113.7 445.0,107.0 454.4,99.6 463.8,96.9 473.1,90.0 482.5,86.4 491.9,76.7 501.3,71.9 510.7,70.3 520.1,66.0 529.5,54.3" fill="none" stroke="#6aa4da" stroke-width="1.10" stroke-linejoin="round"/>
<polyline points="398.0,159.4 407.4,153.4 416.8,147.2 426.2,129.8 435.6,115.1 445.0,111.9 454.4,103.3 463.8,97.6 473.1,92.3 482.5,89.5 491.9,83.0 501.3,82.3 510.7,76.0 520.1,70.5 529.5,61.5" fill="none" stroke="#f1c452" stroke-width="1.10" stroke-linejoin="round"/>
<polyline points="398.0,159.4 407.4,153.4 416.8,147.2 426.2,132.4 435.6,119.8 445.0,112.3 454.4,107.5 463.8,100.4 473.1,96.3 482.5,90.2 491.9,86.7 501.3,82.1 510.7,76.8 520.1,74.6 529.5,69.3" fill="none" stroke="#a6b050" stroke-width="1.10" stroke-linejoin="round"/>
<polyline points="398.0,159.4 407.4,153.4 416.8,147.2 426.2,126.9 435.6,121.1 445.0,111.4 454.4,106.6 463.8,106.4 473.1,96.2 482.5,91.2 491.9,89.7 501.3,85.4 510.7,81.4 520.1,81.1 529.5,73.1" fill="none" stroke="#f3d985" stroke-width="1.10" stroke-linejoin="round"/>
<polyline points="398.0,159.4 407.4,153.4 416.8,147.2 426.2,130.7 435.6,117.4 445.0,112.6 454.4,107.3 463.8,104.6 473.1,97.8 482.5,94.8 491.9,91.8 501.3,92.2 510.7,90.7 520.1,86.6 529.5,81.6" fill="none" stroke="#86aa4c" stroke-width="1.10" stroke-linejoin="round"/>
<polyline points="398.0,159.4 407.4,153.4 416.8,147.2 426.2,134.6 435.6,118.8 445.0,116.1 454.4,110.9 463.8,106.7 473.1,102.1 482.5,99.4 491.9,100.1 501.3,91.6 510.7,89.2 520.1,88.3 529.5,85.5" fill="none" stroke="#f1c452" stroke-width="1.10" stroke-linejoin="round"/>
<polyline points="398.0,159.4 407.4,153.4 416.8,147.2 426.2,131.2 435.6,126.2 445.0,116.7 454.4,115.7 463.8,112.8 473.1,107.2 482.5,99.7 491.9,101.4 501.3,95.5 510.7,91.7 520.1,93.6 529.5,92.9" fill="none" stroke="#a6b050" stroke-width="1.10" stroke-linejoin="round"/>
<polyline points="398.0,159.4 407.4,153.4 416.8,147.2 426.2,133.2 435.6,122.6 445.0,118.0 454.4,115.1 463.8,111.1 473.1,111.4 482.5,107.1 491.9,104.6 501.3,99.3 510.7,100.7 520.1,97.2 529.5,99.7" fill="none" stroke="#f3d985" stroke-width="1.10" stroke-linejoin="round"/>
<polyline points="398.0,159.4 407.4,153.4 416.8,147.2 426.2,137.3 435.6,127.4 445.0,120.6 454.4,116.6 463.8,113.3 473.1,112.6 482.5,107.5 491.9,106.5 501.3,105.1 510.7,106.2 520.1,99.0 529.5,102.5" fill="none" stroke="#f1c452" stroke-width="1.10" stroke-linejoin="round"/>
<polyline points="398.0,159.4 407.4,153.4 416.8,147.2 426.2,131.2 435.6,123.5 445.0,126.9 454.4,120.4 463.8,114.7 473.1,110.5 482.5,111.1 491.9,111.4 501.3,110.8 510.7,104.4 520.1,108.7 529.5,104.9" fill="none" stroke="#a6b050" stroke-width="1.10" stroke-linejoin="round"/>
<polyline points="398.0,159.4 407.4,153.4 416.8,147.2 426.2,138.3 435.6,128.3 445.0,122.5 454.4,125.9 463.8,117.8 473.1,116.9 482.5,111.0 491.9,111.7 501.3,114.4 510.7,108.9 520.1,110.8 529.5,113.2" fill="none" stroke="#f3d985" stroke-width="1.10" stroke-linejoin="round"/>
<polyline points="398.0,159.4 407.4,153.4 416.8,147.2 426.2,138.7 435.6,127.6 445.0,124.7 454.4,122.6 463.8,120.6 473.1,116.0 482.5,113.1 491.9,108.6 501.3,114.0 510.7,107.9 520.1,109.1 529.5,116.1" fill="none" stroke="#86aa4c" stroke-width="1.10" stroke-linejoin="round"/>
<polyline points="398.0,159.4 407.4,153.4 416.8,147.2 426.2,121.0 435.6,102.6 445.0,92.8 454.4,88.9 463.8,83.1 473.1,77.7 482.5,68.1 491.9,65.0 501.3,60.6 510.7,54.0 520.1,48.6 529.5,43.8" fill="none" stroke="#6aa4da" stroke-width="1.10" stroke-linejoin="round"/>
<polyline points="398.0,159.4 407.4,153.4 416.8,147.2 426.2,132.0 435.6,112.9 445.0,109.4 454.4,97.2 463.8,97.0 473.1,91.6 482.5,84.6 491.9,81.8 501.3,75.2 510.7,65.8 520.1,59.8 529.5,53.8" fill="none" stroke="#a6b050" stroke-width="1.10" stroke-linejoin="round"/>
<polyline points="398.0,159.1 416.8,151.3 435.6,147.2 454.4,144.0 473.1,142.0 491.9,140.4 501.3,138.8 510.7,134.2 520.1,130.0 529.5,126.4" fill="none" stroke="#c8662e" stroke-width="1.50" stroke-linejoin="round"/>
<polyline points="398.0,159.1 416.8,149.8 435.6,143.0 454.4,136.8 473.1,129.0 482.5,119.1 491.9,105.5 501.3,89.9 510.7,79.5 520.1,71.7 529.5,66.5" fill="none" stroke="#c8662e" stroke-width="1.30" stroke-linejoin="round"/>
<polyline points="398.0,159.4 407.4,153.4 416.8,147.2 426.2,129.0 435.6,120.1 454.4,110.7 473.1,102.9 482.5,100.3 491.9,95.1 501.3,89.9 510.7,82.1 520.1,76.9 529.5,73.3" fill="none" stroke="#68a83a" stroke-width="1.81" stroke-linejoin="round" stroke-opacity="0.55"/>
<polyline points="398.0,159.4 407.4,153.4 416.8,147.2 426.2,129.0 435.6,120.1 454.4,110.7 473.1,102.9 482.5,100.3 491.9,95.1 501.3,89.9 510.7,82.1 520.1,76.9 529.5,73.3" fill="none" stroke="#68a83a" stroke-width="3.30" stroke-linejoin="round" stroke-dasharray="10.7,3.8"/>
<polyline points="398.0,159.4 407.4,153.4 416.8,147.2 426.2,130.5 435.6,121.2 454.4,111.8 473.1,105.5 482.5,102.4 491.9,99.8 501.3,99.3 510.7,99.8 520.1,100.9 529.5,102.4" fill="none" stroke="#f29f25" stroke-width="1.81" stroke-linejoin="round" stroke-opacity="0.55"/>
<polyline points="398.0,159.4 407.4,153.4 416.8,147.2 426.2,130.5 435.6,121.2 454.4,111.8 473.1,105.5 482.5,102.4 491.9,99.8 501.3,99.3 510.7,99.8 520.1,100.9 529.5,102.4" fill="none" stroke="#f29f25" stroke-width="3.30" stroke-linejoin="round" stroke-dasharray="10.7,3.8"/>
<polyline points="398.0,159.4 407.4,153.4 416.8,147.2 426.2,128.4 435.6,116.5 445.0,108.1 454.4,102.4 463.8,96.2 473.1,91.0 482.5,87.3 491.9,82.1 501.3,76.9 510.7,71.7 520.1,67.6 529.5,63.9" fill="none" stroke="#1f7fcf" stroke-width="1.81" stroke-linejoin="round" stroke-opacity="0.55"/>
<polyline points="398.0,159.4 407.4,153.4 416.8,147.2 426.2,128.4 435.6,116.5 445.0,108.1 454.4,102.4 463.8,96.2 473.1,91.0 482.5,87.3 491.9,82.1 501.3,76.9 510.7,71.7 520.1,67.6 529.5,63.9" fill="none" stroke="#1f7fcf" stroke-width="3.30" stroke-linejoin="round" stroke-dasharray="10.7,3.8"/>
</g>
<line x1="398.0" y1="183.60" x2="529.5" y2="183.60" stroke="#8a8a8a" stroke-width="1.1"/>
<line x1="407.39" y1="183.60" x2="407.39" y2="185.60" stroke="#8a8a8a" stroke-width="1"/>
<line x1="416.79" y1="183.60" x2="416.79" y2="185.60" stroke="#8a8a8a" stroke-width="1"/>
<line x1="426.18" y1="183.60" x2="426.18" y2="185.60" stroke="#8a8a8a" stroke-width="1"/>
<line x1="435.57" y1="183.60" x2="435.57" y2="187.10" stroke="#8a8a8a" stroke-width="1"/>
<line x1="444.96" y1="183.60" x2="444.96" y2="185.60" stroke="#8a8a8a" stroke-width="1"/>
<line x1="454.36" y1="183.60" x2="454.36" y2="185.60" stroke="#8a8a8a" stroke-width="1"/>
<line x1="463.75" y1="183.60" x2="463.75" y2="185.60" stroke="#8a8a8a" stroke-width="1"/>
<line x1="473.14" y1="183.60" x2="473.14" y2="185.60" stroke="#8a8a8a" stroke-width="1"/>
<line x1="482.54" y1="183.60" x2="482.54" y2="187.10" stroke="#8a8a8a" stroke-width="1"/>
<line x1="491.93" y1="183.60" x2="491.93" y2="185.60" stroke="#8a8a8a" stroke-width="1"/>
<line x1="501.32" y1="183.60" x2="501.32" y2="185.60" stroke="#8a8a8a" stroke-width="1"/>
<line x1="510.71" y1="183.60" x2="510.71" y2="185.60" stroke="#8a8a8a" stroke-width="1"/>
<line x1="520.11" y1="183.60" x2="520.11" y2="185.60" stroke="#8a8a8a" stroke-width="1"/>
<line x1="529.50" y1="183.60" x2="529.50" y2="187.10" stroke="#8a8a8a" stroke-width="1"/>
<text x="435.57" y="196.80" font-size="9.5" fill="#333" stroke="#333" stroke-width="0.2" text-anchor="middle" textLength="21.12" lengthAdjust="spacingAndGlyphs">2030</text>
<text x="482.54" y="196.80" font-size="9.5" fill="#333" stroke="#333" stroke-width="0.2" text-anchor="middle" textLength="21.12" lengthAdjust="spacingAndGlyphs">2040</text>
<text x="529.50" y="196.80" font-size="9.5" fill="#333" stroke="#333" stroke-width="0.2" text-anchor="middle" textLength="21.12" lengthAdjust="spacingAndGlyphs">2050</text>
<text x="463.75" y="16.60" font-size="11.6" font-weight="bold" fill="#111" stroke="#111" stroke-width="0.25" text-anchor="middle" textLength="31.18" lengthAdjust="spacingAndGlyphs">Wind</text>
<text transform="translate(19.9,103.90) rotate(-90)" font-size="16.2" font-weight="bold" fill="#000" stroke="#000" stroke-width="0.35" text-anchor="middle" textLength="91.00" lengthAdjust="spacingAndGlyphs">Generation</text>
<text transform="translate(36.1,103.90) rotate(-90)" font-size="16.2" font-weight="bold" fill="#000" stroke="#000" stroke-width="0.35" text-anchor="middle" textLength="90.00" lengthAdjust="spacingAndGlyphs">(TWh/year)</text>
<line x1="69.0" y1="288.89" x2="200.5" y2="288.89" stroke="#dcdcdc" stroke-width="1"/>
<line x1="69.0" y1="275.88" x2="200.5" y2="275.88" stroke="#dcdcdc" stroke-width="1"/>
<line x1="69.0" y1="262.87" x2="200.5" y2="262.87" stroke="#dcdcdc" stroke-width="1"/>
<line x1="69.0" y1="249.86" x2="200.5" y2="249.86" stroke="#dcdcdc" stroke-width="1"/>
<line x1="69.0" y1="236.85" x2="200.5" y2="236.85" stroke="#dcdcdc" stroke-width="1"/>
<line x1="69.0" y1="223.84" x2="200.5" y2="223.84" stroke="#dcdcdc" stroke-width="1"/>
<text x="62.40" y="305.10" font-size="9.5" fill="#333" stroke="#333" stroke-width="0.2" text-anchor="end" textLength="5.28" lengthAdjust="spacingAndGlyphs">0</text>
<text x="62.40" y="292.09" font-size="9.5" fill="#333" stroke="#333" stroke-width="0.2" text-anchor="end" textLength="15.84" lengthAdjust="spacingAndGlyphs">250</text>
<text x="62.40" y="279.08" font-size="9.5" fill="#333" stroke="#333" stroke-width="0.2" text-anchor="end" textLength="15.84" lengthAdjust="spacingAndGlyphs">500</text>
<text x="62.40" y="266.07" font-size="9.5" fill="#333" stroke="#333" stroke-width="0.2" text-anchor="end" textLength="15.84" lengthAdjust="spacingAndGlyphs">750</text>
<text x="62.40" y="253.06" font-size="9.5" fill="#333" stroke="#333" stroke-width="0.2" text-anchor="end" textLength="21.12" lengthAdjust="spacingAndGlyphs">1000</text>
<text x="62.40" y="240.05" font-size="9.5" fill="#333" stroke="#333" stroke-width="0.2" text-anchor="end" textLength="21.12" lengthAdjust="spacingAndGlyphs">1250</text>
<text x="62.40" y="227.04" font-size="9.5" fill="#333" stroke="#333" stroke-width="0.2" text-anchor="end" textLength="21.12" lengthAdjust="spacingAndGlyphs">1500</text>
<clipPath id="cp10"><rect x="69.0" y="131.9" width="131.5" height="170.6"/></clipPath>
<g clip-path="url(#cp10)">
<polyline points="69.0,248.7 78.5,254.9 88.4,257.4 93.4,264.9 98.4,269.9 108.3,274.8 120.8,279.8 133.3,284.8 148.2,287.3 160.7,288.6 170.6,287.3 180.6,282.3 190.5,278.6 200.5,277.3" fill="none" stroke="#f1c452" stroke-width="1.10" stroke-linejoin="round"/>
<polyline points="69.0,248.7 78.5,262.4 90.9,269.9 103.4,277.3 115.8,282.3 125.8,284.8 135.7,292.3 148.2,294.8 160.7,293.5 173.1,292.3 183.1,294.8 200.5,297.3" fill="none" stroke="#a6b050" stroke-width="1.10" stroke-linejoin="round"/>
<polyline points="165.6,292.3 175.6,287.3 185.6,279.8 195.5,276.8 200.5,275.3" fill="none" stroke="#f3d985" stroke-width="1.10" stroke-linejoin="round"/>
<polyline points="69.0,248.7 80.9,263.6 90.9,269.9 103.4,277.3 110.8,289.8 115.8,294.8 125.8,298.5 140.7,300.3 165.6,300.3 200.5,300.3" fill="none" stroke="#6aa4da" stroke-width="1.10" stroke-linejoin="round"/>
<polyline points="69.0,251.2 78.5,264.9 90.9,272.3 103.4,277.3 115.8,282.3 125.8,289.8 133.3,294.8 145.7,297.3 165.6,297.8 200.5,297.8" fill="none" stroke="#a6b050" stroke-width="1.10" stroke-linejoin="round"/>
<polyline points="69.0,249.4 80.9,262.4 93.4,273.6 105.9,282.3 118.3,286.1 128.3,289.8 140.7,294.8 155.7,296.0 170.6,294.8 183.1,297.3 200.5,299.3" fill="none" stroke="#86aa4c" stroke-width="1.10" stroke-linejoin="round"/>
<polyline points="69.0,249.9 78.5,259.9 90.9,267.4 100.9,274.8 115.8,284.8 130.8,292.3 145.7,296.0 160.7,296.8 175.6,294.8 190.5,294.3 200.5,293.5" fill="none" stroke="#f1c452" stroke-width="1.10" stroke-linejoin="round"/>
<polyline points="69.0,252.4 76.0,266.1 85.9,279.8 95.9,292.3 105.9,296.0 120.8,297.8 140.7,298.5 165.6,298.8 200.5,298.3" fill="none" stroke="#f1c452" stroke-width="1.10" stroke-linejoin="round"/>
<polyline points="69.0,252.4 78.5,269.9 88.4,282.3 95.9,293.5 103.4,296.0 115.8,297.3 135.7,299.3 165.6,299.8 200.5,299.8" fill="none" stroke="#a6b050" stroke-width="1.10" stroke-linejoin="round"/>
<polyline points="69.0,251.9 80.9,267.4 93.4,279.8 103.4,287.3 115.8,291.0 130.8,293.5 148.2,294.8 165.6,296.0 180.6,296.8 200.5,294.8" fill="none" stroke="#f3d985" stroke-width="1.10" stroke-linejoin="round"/>
<polyline points="69.0,251.2 83.4,264.9 95.9,277.3 108.3,283.6 120.8,287.3 135.7,291.0 150.7,292.3 165.6,292.8 178.1,294.8 200.5,296.0" fill="none" stroke="#86aa4c" stroke-width="1.10" stroke-linejoin="round"/>
<polyline points="69.0,250.4 79.7,261.1 89.7,271.1 98.4,281.1 108.3,288.6 120.8,292.8 135.7,294.8 153.2,295.8 170.6,297.3 200.5,298.8" fill="none" stroke="#f1c452" stroke-width="1.10" stroke-linejoin="round"/>
<polyline points="69.0,249.9 80.9,263.6 90.9,274.8 100.9,284.8 110.8,292.3 120.8,296.0 135.7,298.5 165.6,299.3 200.5,299.3" fill="none" stroke="#6aa4da" stroke-width="1.10" stroke-linejoin="round"/>
<polyline points="148.2,293.5 160.7,292.3 173.1,289.8 185.6,284.8 195.5,281.1 200.5,279.8" fill="none" stroke="#f3d985" stroke-width="1.10" stroke-linejoin="round"/>
<polyline points="69.0,252.4 76.0,261.1 85.9,261.1 98.4,262.9 115.8,264.9 130.8,266.6 145.7,268.1 160.7,268.6 170.6,270.6 183.1,273.6 193.0,276.1 200.5,281.1" fill="none" stroke="#c8662e" stroke-width="1.60" stroke-linejoin="round"/>
<polyline points="69.0,251.2 76.0,262.4 85.9,272.3 95.9,282.3 105.9,289.8 115.8,293.8 128.3,296.3 140.7,297.8 153.2,298.5 165.6,299.3 178.1,299.3 190.5,299.3 200.5,299.8" fill="none" stroke="#68a83a" stroke-width="1.81" stroke-linejoin="round" stroke-opacity="0.55"/>
<polyline points="69.0,251.2 76.0,262.4 85.9,272.3 95.9,282.3 105.9,289.8 115.8,293.8 128.3,296.3 140.7,297.8 153.2,298.5 165.6,299.3 178.1,299.3 190.5,299.3 200.5,299.8" fill="none" stroke="#68a83a" stroke-width="3.30" stroke-linejoin="round" stroke-dasharray="10.7,3.8"/>
<polyline points="69.0,251.2 76.0,263.6 83.4,274.8 90.9,286.1 98.4,292.3 108.3,296.0 118.3,299.3 125.8,301.0 135.7,301.8 200.5,301.8" fill="none" stroke="#1f7fcf" stroke-width="1.81" stroke-linejoin="round" stroke-opacity="0.55"/>
<polyline points="69.0,251.2 76.0,263.6 83.4,274.8 90.9,286.1 98.4,292.3 108.3,296.0 118.3,299.3 125.8,301.0 135.7,301.8 200.5,301.8" fill="none" stroke="#1f7fcf" stroke-width="3.30" stroke-linejoin="round" stroke-dasharray="10.7,3.8"/>
<polyline points="69.0,251.2 76.0,262.4 85.9,272.3 95.9,282.3 105.9,289.8 115.8,293.5 128.3,296.0 140.7,297.3 153.2,297.8 165.6,297.3 175.6,296.0 185.6,294.8 195.5,292.3 200.5,291.0" fill="none" stroke="#f29f25" stroke-width="1.81" stroke-linejoin="round" stroke-opacity="0.55"/>
<polyline points="69.0,251.2 76.0,262.4 85.9,272.3 95.9,282.3 105.9,289.8 115.8,293.5 128.3,296.0 140.7,297.3 153.2,297.8 165.6,297.3 175.6,296.0 185.6,294.8 195.5,292.3 200.5,291.0" fill="none" stroke="#f29f25" stroke-width="3.30" stroke-linejoin="round" stroke-dasharray="10.7,3.8"/>
</g>
<line x1="69.0" y1="301.90" x2="200.5" y2="301.90" stroke="#8a8a8a" stroke-width="1.1"/>
<line x1="78.39" y1="301.90" x2="78.39" y2="303.90" stroke="#8a8a8a" stroke-width="1"/>
<line x1="87.79" y1="301.90" x2="87.79" y2="303.90" stroke="#8a8a8a" stroke-width="1"/>
<line x1="97.18" y1="301.90" x2="97.18" y2="303.90" stroke="#8a8a8a" stroke-width="1"/>
<line x1="106.57" y1="301.90" x2="106.57" y2="305.40" stroke="#8a8a8a" stroke-width="1"/>
<line x1="115.96" y1="301.90" x2="115.96" y2="303.90" stroke="#8a8a8a" stroke-width="1"/>
<line x1="125.36" y1="301.90" x2="125.36" y2="303.90" stroke="#8a8a8a" stroke-width="1"/>
<line x1="134.75" y1="301.90" x2="134.75" y2="303.90" stroke="#8a8a8a" stroke-width="1"/>
<line x1="144.14" y1="301.90" x2="144.14" y2="303.90" stroke="#8a8a8a" stroke-width="1"/>
<line x1="153.54" y1="301.90" x2="153.54" y2="305.40" stroke="#8a8a8a" stroke-width="1"/>
<line x1="162.93" y1="301.90" x2="162.93" y2="303.90" stroke="#8a8a8a" stroke-width="1"/>
<line x1="172.32" y1="301.90" x2="172.32" y2="303.90" stroke="#8a8a8a" stroke-width="1"/>
<line x1="181.71" y1="301.90" x2="181.71" y2="303.90" stroke="#8a8a8a" stroke-width="1"/>
<line x1="191.11" y1="301.90" x2="191.11" y2="303.90" stroke="#8a8a8a" stroke-width="1"/>
<line x1="200.50" y1="301.90" x2="200.50" y2="305.40" stroke="#8a8a8a" stroke-width="1"/>
<text x="106.57" y="315.10" font-size="9.5" fill="#333" stroke="#333" stroke-width="0.2" text-anchor="middle" textLength="21.12" lengthAdjust="spacingAndGlyphs">2030</text>
<text x="153.54" y="315.10" font-size="9.5" fill="#333" stroke="#333" stroke-width="0.2" text-anchor="middle" textLength="21.12" lengthAdjust="spacingAndGlyphs">2040</text>
<text x="200.50" y="315.10" font-size="9.5" fill="#333" stroke="#333" stroke-width="0.2" text-anchor="middle" textLength="21.12" lengthAdjust="spacingAndGlyphs">2050</text>
<text x="134.75" y="215.70" font-size="11.6" font-weight="bold" fill="#111" stroke="#111" stroke-width="0.25" text-anchor="middle" textLength="26.46" lengthAdjust="spacingAndGlyphs">Coal</text>
<line x1="233.5" y1="288.89" x2="365.0" y2="288.89" stroke="#dcdcdc" stroke-width="1"/>
<line x1="233.5" y1="275.88" x2="365.0" y2="275.88" stroke="#dcdcdc" stroke-width="1"/>
<line x1="233.5" y1="262.87" x2="365.0" y2="262.87" stroke="#dcdcdc" stroke-width="1"/>
<line x1="233.5" y1="249.86" x2="365.0" y2="249.86" stroke="#dcdcdc" stroke-width="1"/>
<line x1="233.5" y1="236.85" x2="365.0" y2="236.85" stroke="#dcdcdc" stroke-width="1"/>
<line x1="233.5" y1="223.84" x2="365.0" y2="223.84" stroke="#dcdcdc" stroke-width="1"/>
<text x="226.90" y="305.10" font-size="9.5" fill="#333" stroke="#333" stroke-width="0.2" text-anchor="end" textLength="5.28" lengthAdjust="spacingAndGlyphs">0</text>
<text x="226.90" y="292.09" font-size="9.5" fill="#333" stroke="#333" stroke-width="0.2" text-anchor="end" textLength="15.84" lengthAdjust="spacingAndGlyphs">250</text>
<text x="226.90" y="279.08" font-size="9.5" fill="#333" stroke="#333" stroke-width="0.2" text-anchor="end" textLength="15.84" lengthAdjust="spacingAndGlyphs">500</text>
<text x="226.90" y="266.07" font-size="9.5" fill="#333" stroke="#333" stroke-width="0.2" text-anchor="end" textLength="15.84" lengthAdjust="spacingAndGlyphs">750</text>
<text x="226.90" y="253.06" font-size="9.5" fill="#333" stroke="#333" stroke-width="0.2" text-anchor="end" textLength="21.12" lengthAdjust="spacingAndGlyphs">1000</text>
<text x="226.90" y="240.05" font-size="9.5" fill="#333" stroke="#333" stroke-width="0.2" text-anchor="end" textLength="21.12" lengthAdjust="spacingAndGlyphs">1250</text>
<text x="226.90" y="227.04" font-size="9.5" fill="#333" stroke="#333" stroke-width="0.2" text-anchor="end" textLength="21.12" lengthAdjust="spacingAndGlyphs">1500</text>
<clipPath id="cp11"><rect x="233.5" y="131.9" width="131.5" height="170.6"/></clipPath>
<g clip-path="url(#cp11)">
<polyline points="279.8,263.6 289.8,263.6 297.3,248.7 307.2,246.2 317.2,242.4 327.1,233.7 337.1,232.5 347.1,230.0 359.5,222.5 364.5,221.2" fill="none" stroke="#6aa4da" stroke-width="1.10" stroke-linejoin="round"/>
<polyline points="233.5,261.1 279.8,262.9 329.6,263.6 347.1,263.6 354.5,259.9 359.5,249.9 364.5,241.2" fill="none" stroke="#a6b050" stroke-width="1.10" stroke-linejoin="round"/>
<polyline points="233.5,261.1 279.8,262.9 294.8,264.9 304.7,267.4 317.2,272.3 329.6,274.8 339.6,278.6 349.6,284.8 357.0,288.6 364.5,291.0" fill="none" stroke="#f1c452" stroke-width="1.10" stroke-linejoin="round"/>
<polyline points="279.8,263.6 287.3,266.1 297.3,272.3 304.7,273.6 317.2,273.6 329.6,272.3 342.1,271.1 354.5,272.3 364.5,273.6" fill="none" stroke="#f1c452" stroke-width="1.10" stroke-linejoin="round"/>
<polyline points="279.8,263.6 287.3,266.1 297.3,274.8 309.7,276.1 324.7,274.8 339.6,273.6 354.5,274.8 364.5,277.3" fill="none" stroke="#f3d985" stroke-width="1.10" stroke-linejoin="round"/>
<polyline points="279.8,263.6 292.3,267.4 304.7,269.9 329.6,271.1 349.6,272.3 364.5,276.1" fill="none" stroke="#86aa4c" stroke-width="1.10" stroke-linejoin="round"/>
<polyline points="279.8,263.6 289.8,268.6 304.7,269.9 329.6,269.9 349.6,269.9 364.5,271.1" fill="none" stroke="#6aa4da" stroke-width="1.10" stroke-linejoin="round"/>
<polyline points="279.8,263.6 292.3,268.6 304.7,271.1 329.6,272.3 349.6,273.6 364.5,274.8" fill="none" stroke="#a6b050" stroke-width="1.10" stroke-linejoin="round"/>
<polyline points="279.8,263.6 289.8,267.4 304.7,267.9 329.6,268.6 364.5,269.4" fill="none" stroke="#6aa4da" stroke-width="1.10" stroke-linejoin="round"/>
<polyline points="279.8,263.6 304.7,266.1 329.6,266.9 364.5,268.6" fill="none" stroke="#f1c452" stroke-width="1.10" stroke-linejoin="round"/>
<polyline points="279.8,263.6 304.7,264.9 329.6,266.1 349.6,267.4 364.5,269.9" fill="none" stroke="#86aa4c" stroke-width="1.10" stroke-linejoin="round"/>
<polyline points="233.5,261.1 254.9,261.6 274.8,263.6 289.8,264.4 304.7,264.9 319.7,265.4 334.6,265.6 349.6,266.1 364.5,267.9" fill="none" stroke="#68a83a" stroke-width="1.81" stroke-linejoin="round" stroke-opacity="0.55"/>
<polyline points="233.5,261.1 254.9,261.6 274.8,263.6 289.8,264.4 304.7,264.9 319.7,265.4 334.6,265.6 349.6,266.1 364.5,267.9" fill="none" stroke="#68a83a" stroke-width="3.30" stroke-linejoin="round" stroke-dasharray="10.7,3.8"/>
<polyline points="233.5,261.1 254.9,261.6 274.8,263.6 289.8,264.9 304.7,265.6 319.7,265.6 334.6,266.1 349.6,266.4 364.5,266.9" fill="none" stroke="#1f7fcf" stroke-width="1.81" stroke-linejoin="round" stroke-opacity="0.55"/>
<polyline points="233.5,261.1 254.9,261.6 274.8,263.6 289.8,264.9 304.7,265.6 319.7,265.6 334.6,266.1 349.6,266.4 364.5,266.9" fill="none" stroke="#1f7fcf" stroke-width="3.30" stroke-linejoin="round" stroke-dasharray="10.7,3.8"/>
<polyline points="233.5,261.1 244.9,261.1 254.9,261.6 264.9,262.4 274.8,263.6 289.8,263.6 304.7,263.6 319.7,264.1 334.6,264.4 349.6,264.9 364.5,264.9" fill="none" stroke="#f29f25" stroke-width="1.81" stroke-linejoin="round" stroke-opacity="0.55"/>
<polyline points="233.5,261.1 244.9,261.1 254.9,261.6 264.9,262.4 274.8,263.6 289.8,263.6 304.7,263.6 319.7,264.1 334.6,264.4 349.6,264.9 364.5,264.9" fill="none" stroke="#f29f25" stroke-width="3.30" stroke-linejoin="round" stroke-dasharray="10.7,3.8"/>
</g>
<line x1="233.5" y1="301.90" x2="365.0" y2="301.90" stroke="#8a8a8a" stroke-width="1.1"/>
<line x1="242.89" y1="301.90" x2="242.89" y2="303.90" stroke="#8a8a8a" stroke-width="1"/>
<line x1="252.29" y1="301.90" x2="252.29" y2="303.90" stroke="#8a8a8a" stroke-width="1"/>
<line x1="261.68" y1="301.90" x2="261.68" y2="303.90" stroke="#8a8a8a" stroke-width="1"/>
<line x1="271.07" y1="301.90" x2="271.07" y2="305.40" stroke="#8a8a8a" stroke-width="1"/>
<line x1="280.46" y1="301.90" x2="280.46" y2="303.90" stroke="#8a8a8a" stroke-width="1"/>
<line x1="289.86" y1="301.90" x2="289.86" y2="303.90" stroke="#8a8a8a" stroke-width="1"/>
<line x1="299.25" y1="301.90" x2="299.25" y2="303.90" stroke="#8a8a8a" stroke-width="1"/>
<line x1="308.64" y1="301.90" x2="308.64" y2="303.90" stroke="#8a8a8a" stroke-width="1"/>
<line x1="318.04" y1="301.90" x2="318.04" y2="305.40" stroke="#8a8a8a" stroke-width="1"/>
<line x1="327.43" y1="301.90" x2="327.43" y2="303.90" stroke="#8a8a8a" stroke-width="1"/>
<line x1="336.82" y1="301.90" x2="336.82" y2="303.90" stroke="#8a8a8a" stroke-width="1"/>
<line x1="346.21" y1="301.90" x2="346.21" y2="303.90" stroke="#8a8a8a" stroke-width="1"/>
<line x1="355.61" y1="301.90" x2="355.61" y2="303.90" stroke="#8a8a8a" stroke-width="1"/>
<line x1="365.00" y1="301.90" x2="365.00" y2="305.40" stroke="#8a8a8a" stroke-width="1"/>
<text x="271.07" y="315.10" font-size="9.5" fill="#333" stroke="#333" stroke-width="0.2" text-anchor="middle" textLength="21.12" lengthAdjust="spacingAndGlyphs">2030</text>
<text x="318.04" y="315.10" font-size="9.5" fill="#333" stroke="#333" stroke-width="0.2" text-anchor="middle" textLength="21.12" lengthAdjust="spacingAndGlyphs">2040</text>
<text x="365.00" y="315.10" font-size="9.5" fill="#333" stroke="#333" stroke-width="0.2" text-anchor="middle" textLength="21.12" lengthAdjust="spacingAndGlyphs">2050</text>
<text x="299.25" y="215.70" font-size="11.6" font-weight="bold" fill="#111" stroke="#111" stroke-width="0.25" text-anchor="middle" textLength="46.98" lengthAdjust="spacingAndGlyphs">Nuclear</text>
<line x1="398.0" y1="288.89" x2="529.5" y2="288.89" stroke="#dcdcdc" stroke-width="1"/>
<line x1="398.0" y1="275.88" x2="529.5" y2="275.88" stroke="#dcdcdc" stroke-width="1"/>
<line x1="398.0" y1="262.87" x2="529.5" y2="262.87" stroke="#dcdcdc" stroke-width="1"/>
<line x1="398.0" y1="249.86" x2="529.5" y2="249.86" stroke="#dcdcdc" stroke-width="1"/>
<line x1="398.0" y1="236.85" x2="529.5" y2="236.85" stroke="#dcdcdc" stroke-width="1"/>
<line x1="398.0" y1="223.84" x2="529.5" y2="223.84" stroke="#dcdcdc" stroke-width="1"/>
<text x="391.40" y="305.10" font-size="9.5" fill="#333" stroke="#333" stroke-width="0.2" text-anchor="end" textLength="5.28" lengthAdjust="spacingAndGlyphs">0</text>
<text x="391.40" y="292.09" font-size="9.5" fill="#333" stroke="#333" stroke-width="0.2" text-anchor="end" textLength="15.84" lengthAdjust="spacingAndGlyphs">250</text>
<text x="391.40" y="279.08" font-size="9.5" fill="#333" stroke="#333" stroke-width="0.2" text-anchor="end" textLength="15.84" lengthAdjust="spacingAndGlyphs">500</text>
<text x="391.40" y="266.07" font-size="9.5" fill="#333" stroke="#333" stroke-width="0.2" text-anchor="end" textLength="15.84" lengthAdjust="spacingAndGlyphs">750</text>
<text x="391.40" y="253.06" font-size="9.5" fill="#333" stroke="#333" stroke-width="0.2" text-anchor="end" textLength="21.12" lengthAdjust="spacingAndGlyphs">1000</text>
<text x="391.40" y="240.05" font-size="9.5" fill="#333" stroke="#333" stroke-width="0.2" text-anchor="end" textLength="21.12" lengthAdjust="spacingAndGlyphs">1250</text>
<text x="391.40" y="227.04" font-size="9.5" fill="#333" stroke="#333" stroke-width="0.2" text-anchor="end" textLength="21.12" lengthAdjust="spacingAndGlyphs">1500</text>
<clipPath id="cp12"><rect x="398.0" y="131.9" width="131.5" height="170.6"/></clipPath>
<g clip-path="url(#cp12)">
<polyline points="454.8,285.3 462.3,280.3 474.7,279.8 494.6,279.3 514.6,278.6 529.5,277.3" fill="none" stroke="#6aa4da" stroke-width="1.10" stroke-linejoin="round"/>
<polyline points="454.8,285.3 464.7,281.8 482.2,281.1 507.1,280.6 529.5,279.8" fill="none" stroke="#6aa4da" stroke-width="1.10" stroke-linejoin="round"/>
<polyline points="454.8,285.3 469.7,284.3 494.6,283.8 529.5,283.3" fill="none" stroke="#a6b050" stroke-width="1.10" stroke-linejoin="round"/>
<polyline points="454.8,285.3 469.7,285.8 494.6,286.1 529.5,286.3" fill="none" stroke="#f1c452" stroke-width="1.10" stroke-linejoin="round"/>
<polyline points="454.8,285.3 469.7,284.8 494.6,284.6 529.5,284.3" fill="none" stroke="#86aa4c" stroke-width="1.10" stroke-linejoin="round"/>
<polyline points="454.8,285.3 469.7,286.3 494.6,286.8 529.5,286.8" fill="none" stroke="#f3d985" stroke-width="1.10" stroke-linejoin="round"/>
<polyline points="398.0,285.3 454.8,285.3 464.7,283.6 482.2,282.8 507.1,282.3 529.5,281.6" fill="none" stroke="#1f7fcf" stroke-width="1.81" stroke-linejoin="round" stroke-opacity="0.55"/>
<polyline points="398.0,285.3 454.8,285.3 464.7,283.6 482.2,282.8 507.1,282.3 529.5,281.6" fill="none" stroke="#1f7fcf" stroke-width="3.30" stroke-linejoin="round" stroke-dasharray="10.7,3.8"/>
<polyline points="398.0,285.6 417.4,284.8 436.1,284.3 454.8,284.3 469.7,283.8 494.6,283.6 529.5,283.1" fill="none" stroke="#68a83a" stroke-width="1.81" stroke-linejoin="round" stroke-opacity="0.55"/>
<polyline points="398.0,285.6 417.4,284.8 436.1,284.3 454.8,284.3 469.7,283.8 494.6,283.6 529.5,283.1" fill="none" stroke="#68a83a" stroke-width="3.30" stroke-linejoin="round" stroke-dasharray="10.7,3.8"/>
<polyline points="398.0,285.6 417.4,284.8 436.1,284.3 454.8,284.3 469.7,284.1 494.6,283.8 529.5,283.6" fill="none" stroke="#f29f25" stroke-width="1.81" stroke-linejoin="round" stroke-opacity="0.55"/>
<polyline points="398.0,285.6 417.4,284.8 436.1,284.3 454.8,284.3 469.7,284.1 494.6,283.8 529.5,283.6" fill="none" stroke="#f29f25" stroke-width="3.30" stroke-linejoin="round" stroke-dasharray="10.7,3.8"/>
</g>
<line x1="398.0" y1="301.90" x2="529.5" y2="301.90" stroke="#8a8a8a" stroke-width="1.1"/>
<line x1="407.39" y1="301.90" x2="407.39" y2="303.90" stroke="#8a8a8a" stroke-width="1"/>
<line x1="416.79" y1="301.90" x2="416.79" y2="303.90" stroke="#8a8a8a" stroke-width="1"/>
<line x1="426.18" y1="301.90" x2="426.18" y2="303.90" stroke="#8a8a8a" stroke-width="1"/>
<line x1="435.57" y1="301.90" x2="435.57" y2="305.40" stroke="#8a8a8a" stroke-width="1"/>
<line x1="444.96" y1="301.90" x2="444.96" y2="303.90" stroke="#8a8a8a" stroke-width="1"/>
<line x1="454.36" y1="301.90" x2="454.36" y2="303.90" stroke="#8a8a8a" stroke-width="1"/>
<line x1="463.75" y1="301.90" x2="463.75" y2="303.90" stroke="#8a8a8a" stroke-width="1"/>
<line x1="473.14" y1="301.90" x2="473.14" y2="303.90" stroke="#8a8a8a" stroke-width="1"/>
<line x1="482.54" y1="301.90" x2="482.54" y2="305.40" stroke="#8a8a8a" stroke-width="1"/>
<line x1="491.93" y1="301.90" x2="491.93" y2="303.90" stroke="#8a8a8a" stroke-width="1"/>
<line x1="501.32" y1="301.90" x2="501.32" y2="303.90" stroke="#8a8a8a" stroke-width="1"/>
<line x1="510.71" y1="301.90" x2="510.71" y2="303.90" stroke="#8a8a8a" stroke-width="1"/>
<line x1="520.11" y1="301.90" x2="520.11" y2="303.90" stroke="#8a8a8a" stroke-width="1"/>
<line x1="529.50" y1="301.90" x2="529.50" y2="305.40" stroke="#8a8a8a" stroke-width="1"/>
<text x="435.57" y="315.10" font-size="9.5" fill="#333" stroke="#333" stroke-width="0.2" text-anchor="middle" textLength="21.12" lengthAdjust="spacingAndGlyphs">2030</text>
<text x="482.54" y="315.10" font-size="9.5" fill="#333" stroke="#333" stroke-width="0.2" text-anchor="middle" textLength="21.12" lengthAdjust="spacingAndGlyphs">2040</text>
<text x="529.50" y="315.10" font-size="9.5" fill="#333" stroke="#333" stroke-width="0.2" text-anchor="middle" textLength="21.12" lengthAdjust="spacingAndGlyphs">2050</text>
<text x="463.75" y="215.70" font-size="11.6" font-weight="bold" fill="#111" stroke="#111" stroke-width="0.25" text-anchor="middle" textLength="34.84" lengthAdjust="spacingAndGlyphs">Other</text>
<text transform="translate(19.9,262.00) rotate(-90)" font-size="16.2" font-weight="bold" fill="#000" stroke="#000" stroke-width="0.35" text-anchor="middle" textLength="91.00" lengthAdjust="spacingAndGlyphs">Generation</text>
<text transform="translate(36.1,262.00) rotate(-90)" font-size="16.2" font-weight="bold" fill="#000" stroke="#000" stroke-width="0.35" text-anchor="middle" textLength="90.00" lengthAdjust="spacingAndGlyphs">(TWh/year)</text>
<line x1="69.0" y1="407.59" x2="200.5" y2="407.59" stroke="#dcdcdc" stroke-width="1"/>
<line x1="69.0" y1="394.58" x2="200.5" y2="394.58" stroke="#dcdcdc" stroke-width="1"/>
<line x1="69.0" y1="381.57" x2="200.5" y2="381.57" stroke="#dcdcdc" stroke-width="1"/>
<line x1="69.0" y1="368.56" x2="200.5" y2="368.56" stroke="#dcdcdc" stroke-width="1"/>
<line x1="69.0" y1="355.55" x2="200.5" y2="355.55" stroke="#dcdcdc" stroke-width="1"/>
<line x1="69.0" y1="342.54" x2="200.5" y2="342.54" stroke="#dcdcdc" stroke-width="1"/>
<text x="62.40" y="423.80" font-size="9.5" fill="#333" stroke="#333" stroke-width="0.2" text-anchor="end" textLength="5.28" lengthAdjust="spacingAndGlyphs">0</text>
<text x="62.40" y="410.79" font-size="9.5" fill="#333" stroke="#333" stroke-width="0.2" text-anchor="end" textLength="15.84" lengthAdjust="spacingAndGlyphs">250</text>
<text x="62.40" y="397.78" font-size="9.5" fill="#333" stroke="#333" stroke-width="0.2" text-anchor="end" textLength="15.84" lengthAdjust="spacingAndGlyphs">500</text>
<text x="62.40" y="384.77" font-size="9.5" fill="#333" stroke="#333" stroke-width="0.2" text-anchor="end" textLength="15.84" lengthAdjust="spacingAndGlyphs">750</text>
<text x="62.40" y="371.76" font-size="9.5" fill="#333" stroke="#333" stroke-width="0.2" text-anchor="end" textLength="21.12" lengthAdjust="spacingAndGlyphs">1000</text>
<text x="62.40" y="358.75" font-size="9.5" fill="#333" stroke="#333" stroke-width="0.2" text-anchor="end" textLength="21.12" lengthAdjust="spacingAndGlyphs">1250</text>
<text x="62.40" y="345.74" font-size="9.5" fill="#333" stroke="#333" stroke-width="0.2" text-anchor="end" textLength="21.12" lengthAdjust="spacingAndGlyphs">1500</text>
<clipPath id="cp20"><rect x="69.0" y="250.6" width="131.5" height="170.6"/></clipPath>
<g clip-path="url(#cp20)">
<polyline points="69.0,419.8 76.0,419.3 80.9,419.8 87.2,420.3" fill="none" stroke="#f29f25" stroke-width="1.40" stroke-linejoin="round"/>
<polyline points="87.2,420.3 97.1,393.6 105.9,393.6 115.8,387.4 125.8,374.9 134.5,386.1 143.2,384.9 153.2,387.4 163.1,384.9 178.1,386.1 200.5,384.9" fill="none" stroke="#6aa4da" stroke-width="1.10" stroke-linejoin="round"/>
<polyline points="87.2,420.3 97.1,393.6 115.8,388.6 125.8,382.4 134.5,387.4 143.2,386.1 153.2,389.9 165.6,384.9 178.1,384.9 200.5,384.4" fill="none" stroke="#6aa4da" stroke-width="1.10" stroke-linejoin="round"/>
<polyline points="87.2,420.3 97.1,406.8 115.8,399.8 125.8,394.8 135.7,401.1 145.7,399.8 153.2,398.6 165.6,397.3 178.1,396.1 200.5,396.1" fill="none" stroke="#6aa4da" stroke-width="1.10" stroke-linejoin="round"/>
<polyline points="87.2,420.3 97.1,406.8 115.8,403.6 125.8,396.1 135.7,404.8 145.7,402.3 153.2,402.3 170.6,399.8 185.6,398.6 200.5,397.8" fill="none" stroke="#6aa4da" stroke-width="1.10" stroke-linejoin="round"/>
<polyline points="87.2,420.3 97.1,396.1 115.8,395.3 125.8,394.8 140.7,393.6 148.2,393.6 153.2,414.8 165.6,414.8 178.1,394.8 190.5,378.6 200.5,382.4" fill="none" stroke="#a6b050" stroke-width="1.10" stroke-linejoin="round"/>
<polyline points="87.2,420.3 97.1,397.3 115.8,396.8 130.8,396.1 145.7,395.3 153.2,417.3 165.6,417.3 178.1,404.8 190.5,397.3 200.5,397.3" fill="none" stroke="#86aa4c" stroke-width="1.10" stroke-linejoin="round"/>
<polyline points="87.2,420.3 97.1,393.1 115.8,392.8 133.3,392.8 144.5,393.1 153.2,419.8 200.5,419.8" fill="none" stroke="#f1c452" stroke-width="1.10" stroke-linejoin="round"/>
<polyline points="87.2,420.3 97.1,406.1 115.8,409.8 128.3,412.3 140.7,411.0 153.2,414.8 178.1,414.8 200.5,416.0" fill="none" stroke="#a6b050" stroke-width="1.10" stroke-linejoin="round"/>
<polyline points="87.2,420.3 97.1,408.5 115.8,411.0 130.8,413.5 140.7,414.8 153.2,418.5 200.5,419.3" fill="none" stroke="#f3d985" stroke-width="1.10" stroke-linejoin="round"/>
<polyline points="153.2,417.3 170.6,412.3 185.6,404.8 200.5,406.1" fill="none" stroke="#86aa4c" stroke-width="1.10" stroke-linejoin="round"/>
<polyline points="153.2,418.5 170.6,416.0 185.6,414.8 200.5,413.5" fill="none" stroke="#f1c452" stroke-width="1.10" stroke-linejoin="round"/>
<polyline points="153.2,419.3 170.6,417.3 185.6,416.0 200.5,417.3" fill="none" stroke="#a6b050" stroke-width="1.10" stroke-linejoin="round"/>
<polyline points="123.3,420.3 135.7,414.8 148.2,413.5 160.7,412.3 170.6,414.8 185.6,412.3 200.5,414.8" fill="none" stroke="#6aa4da" stroke-width="1.10" stroke-linejoin="round"/>
<polyline points="103.4,420.3 120.8,409.3 130.8,406.6 140.7,406.3 153.2,407.3 165.6,406.8 190.5,406.8 200.5,406.8" fill="none" stroke="#c8662e" stroke-width="1.50" stroke-linejoin="round"/>
<polyline points="69.0,420.0 87.2,420.0 97.1,406.3 115.8,406.3 143.2,406.3 151.9,419.3 163.1,419.3 175.6,409.8 185.6,399.8 190.5,394.8 200.5,393.6" fill="none" stroke="#68a83a" stroke-width="1.81" stroke-linejoin="round" stroke-opacity="0.55"/>
<polyline points="69.0,420.0 87.2,420.0 97.1,406.3 115.8,406.3 143.2,406.3 151.9,419.3 163.1,419.3 175.6,409.8 185.6,399.8 190.5,394.8 200.5,393.6" fill="none" stroke="#68a83a" stroke-width="3.30" stroke-linejoin="round" stroke-dasharray="10.7,3.8"/>
<polyline points="69.0,420.0 87.2,420.0 97.1,407.3 115.8,406.8 124.5,404.3 130.8,407.3 135.7,412.3 145.7,411.0 153.2,409.8 165.6,408.5 178.1,409.8 190.5,411.0 200.5,411.0" fill="none" stroke="#1f7fcf" stroke-width="1.81" stroke-linejoin="round" stroke-opacity="0.55"/>
<polyline points="69.0,420.0 87.2,420.0 97.1,407.3 115.8,406.8 124.5,404.3 130.8,407.3 135.7,412.3 145.7,411.0 153.2,409.8 165.6,408.5 178.1,409.8 190.5,411.0 200.5,411.0" fill="none" stroke="#1f7fcf" stroke-width="3.30" stroke-linejoin="round" stroke-dasharray="10.7,3.8"/>
<polyline points="87.2,420.3 95.4,408.8 103.4,408.5 115.8,408.5 128.3,408.5 143.2,408.8 150.7,420.3" fill="none" stroke="#f29f25" stroke-width="2.60" stroke-linejoin="round"/>
<polyline points="69.0,420.0 87.2,420.0 95.9,407.3 103.4,406.8 115.8,406.8 128.3,406.8 143.2,406.8 151.9,420.0 200.5,420.0" fill="none" stroke="#f29f25" stroke-width="1.87" stroke-linejoin="round" stroke-opacity="0.55"/>
<polyline points="69.0,420.0 87.2,420.0 95.9,407.3 103.4,406.8 115.8,406.8 128.3,406.8 143.2,406.8 151.9,420.0 200.5,420.0" fill="none" stroke="#f29f25" stroke-width="3.40" stroke-linejoin="round" stroke-dasharray="10.7,3.8"/>
</g>
<line x1="69.0" y1="420.60" x2="200.5" y2="420.60" stroke="#8a8a8a" stroke-width="1.1"/>
<line x1="78.39" y1="420.60" x2="78.39" y2="422.60" stroke="#8a8a8a" stroke-width="1"/>
<line x1="87.79" y1="420.60" x2="87.79" y2="422.60" stroke="#8a8a8a" stroke-width="1"/>
<line x1="97.18" y1="420.60" x2="97.18" y2="422.60" stroke="#8a8a8a" stroke-width="1"/>
<line x1="106.57" y1="420.60" x2="106.57" y2="424.10" stroke="#8a8a8a" stroke-width="1"/>
<line x1="115.96" y1="420.60" x2="115.96" y2="422.60" stroke="#8a8a8a" stroke-width="1"/>
<line x1="125.36" y1="420.60" x2="125.36" y2="422.60" stroke="#8a8a8a" stroke-width="1"/>
<line x1="134.75" y1="420.60" x2="134.75" y2="422.60" stroke="#8a8a8a" stroke-width="1"/>
<line x1="144.14" y1="420.60" x2="144.14" y2="422.60" stroke="#8a8a8a" stroke-width="1"/>
<line x1="153.54" y1="420.60" x2="153.54" y2="424.10" stroke="#8a8a8a" stroke-width="1"/>
<line x1="162.93" y1="420.60" x2="162.93" y2="422.60" stroke="#8a8a8a" stroke-width="1"/>
<line x1="172.32" y1="420.60" x2="172.32" y2="422.60" stroke="#8a8a8a" stroke-width="1"/>
<line x1="181.71" y1="420.60" x2="181.71" y2="422.60" stroke="#8a8a8a" stroke-width="1"/>
<line x1="191.11" y1="420.60" x2="191.11" y2="422.60" stroke="#8a8a8a" stroke-width="1"/>
<line x1="200.50" y1="420.60" x2="200.50" y2="424.10" stroke="#8a8a8a" stroke-width="1"/>
<text x="106.57" y="433.80" font-size="9.5" fill="#333" stroke="#333" stroke-width="0.2" text-anchor="middle" textLength="21.12" lengthAdjust="spacingAndGlyphs">2030</text>
<text x="153.54" y="433.80" font-size="9.5" fill="#333" stroke="#333" stroke-width="0.2" text-anchor="middle" textLength="21.12" lengthAdjust="spacingAndGlyphs">2040</text>
<text x="200.50" y="433.80" font-size="9.5" fill="#333" stroke="#333" stroke-width="0.2" text-anchor="middle" textLength="21.12" lengthAdjust="spacingAndGlyphs">2050</text>
<text x="134.75" y="334.80" font-size="11.6" font-weight="bold" fill="#111" stroke="#111" stroke-width="0.25" text-anchor="middle" textLength="99.69" lengthAdjust="spacingAndGlyphs">Natural Gas CCS</text>
<line x1="233.5" y1="407.59" x2="365.0" y2="407.59" stroke="#dcdcdc" stroke-width="1"/>
<line x1="233.5" y1="394.58" x2="365.0" y2="394.58" stroke="#dcdcdc" stroke-width="1"/>
<line x1="233.5" y1="381.57" x2="365.0" y2="381.57" stroke="#dcdcdc" stroke-width="1"/>
<line x1="233.5" y1="368.56" x2="365.0" y2="368.56" stroke="#dcdcdc" stroke-width="1"/>
<line x1="233.5" y1="355.55" x2="365.0" y2="355.55" stroke="#dcdcdc" stroke-width="1"/>
<line x1="233.5" y1="342.54" x2="365.0" y2="342.54" stroke="#dcdcdc" stroke-width="1"/>
<text x="226.90" y="423.80" font-size="9.5" fill="#333" stroke="#333" stroke-width="0.2" text-anchor="end" textLength="5.28" lengthAdjust="spacingAndGlyphs">0</text>
<text x="226.90" y="410.79" font-size="9.5" fill="#333" stroke="#333" stroke-width="0.2" text-anchor="end" textLength="15.84" lengthAdjust="spacingAndGlyphs">250</text>
<text x="226.90" y="397.78" font-size="9.5" fill="#333" stroke="#333" stroke-width="0.2" text-anchor="end" textLength="15.84" lengthAdjust="spacingAndGlyphs">500</text>
<text x="226.90" y="384.77" font-size="9.5" fill="#333" stroke="#333" stroke-width="0.2" text-anchor="end" textLength="15.84" lengthAdjust="spacingAndGlyphs">750</text>
<text x="226.90" y="371.76" font-size="9.5" fill="#333" stroke="#333" stroke-width="0.2" text-anchor="end" textLength="21.12" lengthAdjust="spacingAndGlyphs">1000</text>
<text x="226.90" y="358.75" font-size="9.5" fill="#333" stroke="#333" stroke-width="0.2" text-anchor="end" textLength="21.12" lengthAdjust="spacingAndGlyphs">1250</text>
<text x="226.90" y="345.74" font-size="9.5" fill="#333" stroke="#333" stroke-width="0.2" text-anchor="end" textLength="21.12" lengthAdjust="spacingAndGlyphs">1500</text>
<clipPath id="cp21"><rect x="233.5" y="250.6" width="131.5" height="170.6"/></clipPath>
<g clip-path="url(#cp21)">
<polyline points="233.0,419.8 279.8,419.3 289.8,414.8 299.7,399.8 308.5,384.4 318.4,388.6 337.1,388.6 347.1,392.3 357.0,404.8 364.5,417.8" fill="none" stroke="#efd66a" stroke-width="1.10" stroke-linejoin="round"/>
<polyline points="233.0,419.8 279.8,419.3 292.3,412.3 308.5,399.3 318.4,400.6 337.1,400.6 347.1,401.1 357.0,409.8 364.5,417.8" fill="none" stroke="#a6b050" stroke-width="1.10" stroke-linejoin="round"/>
<polyline points="289.8,419.3 299.7,417.3 308.5,407.8 314.7,411.0 329.6,412.3 347.1,412.3 364.5,417.8" fill="none" stroke="#86aa4c" stroke-width="1.10" stroke-linejoin="round"/>
<polyline points="251.2,419.8 261.1,415.3 272.3,415.3 282.3,414.3 289.8,414.8 299.7,417.3 308.5,414.3 329.6,413.8 347.1,413.8 364.5,418.3" fill="none" stroke="#a6b050" stroke-width="1.10" stroke-linejoin="round"/>
<polyline points="259.9,419.3 269.9,416.8 279.8,414.3 289.8,414.8 299.7,416.3 309.7,417.8 329.6,417.8 349.6,417.3 364.5,418.8" fill="none" stroke="#6aa4da" stroke-width="1.10" stroke-linejoin="round"/>
<polyline points="289.8,419.3 304.7,416.0 319.7,416.8 339.6,416.8 354.5,416.0 364.5,418.8" fill="none" stroke="#f3d985" stroke-width="1.10" stroke-linejoin="round"/>
<polyline points="299.7,419.8 309.7,417.3 329.6,416.0 347.1,414.8 364.5,418.5" fill="none" stroke="#6aa4da" stroke-width="1.10" stroke-linejoin="round"/>
<polyline points="233.0,419.8 299.7,419.8" fill="none" stroke="#f29f25" stroke-width="2.00" stroke-linejoin="round"/>
<polyline points="233.0,420.0 364.5,420.0" fill="none" stroke="#1f7fcf" stroke-width="1.81" stroke-linejoin="round" stroke-opacity="0.55"/>
<polyline points="233.0,420.0 364.5,420.0" fill="none" stroke="#1f7fcf" stroke-width="3.30" stroke-linejoin="round" stroke-dasharray="10.7,3.8"/>
<polyline points="233.0,420.0 299.7,420.0 308.5,413.8 329.6,414.3 347.1,414.0 357.0,415.0 364.5,419.3" fill="none" stroke="#68a83a" stroke-width="1.81" stroke-linejoin="round" stroke-opacity="0.55"/>
<polyline points="233.0,420.0 299.7,420.0 308.5,413.8 329.6,414.3 347.1,414.0 357.0,415.0 364.5,419.3" fill="none" stroke="#68a83a" stroke-width="3.30" stroke-linejoin="round" stroke-dasharray="10.7,3.8"/>
<polyline points="233.0,419.8 289.8,419.8 299.7,419.3 308.5,415.0 317.2,415.0 329.6,415.0 347.1,415.0 357.0,416.0 364.5,419.3" fill="none" stroke="#f29f25" stroke-width="1.81" stroke-linejoin="round" stroke-opacity="0.55"/>
<polyline points="233.0,419.8 289.8,419.8 299.7,419.3 308.5,415.0 317.2,415.0 329.6,415.0 347.1,415.0 357.0,416.0 364.5,419.3" fill="none" stroke="#f29f25" stroke-width="3.30" stroke-linejoin="round" stroke-dasharray="10.7,3.8"/>
</g>
<line x1="233.5" y1="420.60" x2="365.0" y2="420.60" stroke="#8a8a8a" stroke-width="1.1"/>
<line x1="242.89" y1="420.60" x2="242.89" y2="422.60" stroke="#8a8a8a" stroke-width="1"/>
<line x1="252.29" y1="420.60" x2="252.29" y2="422.60" stroke="#8a8a8a" stroke-width="1"/>
<line x1="261.68" y1="420.60" x2="261.68" y2="422.60" stroke="#8a8a8a" stroke-width="1"/>
<line x1="271.07" y1="420.60" x2="271.07" y2="424.10" stroke="#8a8a8a" stroke-width="1"/>
<line x1="280.46" y1="420.60" x2="280.46" y2="422.60" stroke="#8a8a8a" stroke-width="1"/>
<line x1="289.86" y1="420.60" x2="289.86" y2="422.60" stroke="#8a8a8a" stroke-width="1"/>
<line x1="299.25" y1="420.60" x2="299.25" y2="422.60" stroke="#8a8a8a" stroke-width="1"/>
<line x1="308.64" y1="420.60" x2="308.64" y2="422.60" stroke="#8a8a8a" stroke-width="1"/>
<line x1="318.04" y1="420.60" x2="318.04" y2="424.10" stroke="#8a8a8a" stroke-width="1"/>
<line x1="327.43" y1="420.60" x2="327.43" y2="422.60" stroke="#8a8a8a" stroke-width="1"/>
<line x1="336.82" y1="420.60" x2="336.82" y2="422.60" stroke="#8a8a8a" stroke-width="1"/>
<line x1="346.21" y1="420.60" x2="346.21" y2="422.60" stroke="#8a8a8a" stroke-width="1"/>
<line x1="355.61" y1="420.60" x2="355.61" y2="422.60" stroke="#8a8a8a" stroke-width="1"/>
<line x1="365.00" y1="420.60" x2="365.00" y2="424.10" stroke="#8a8a8a" stroke-width="1"/>
<text x="271.07" y="433.80" font-size="9.5" fill="#333" stroke="#333" stroke-width="0.2" text-anchor="middle" textLength="21.12" lengthAdjust="spacingAndGlyphs">2030</text>
<text x="318.04" y="433.80" font-size="9.5" fill="#333" stroke="#333" stroke-width="0.2" text-anchor="middle" textLength="21.12" lengthAdjust="spacingAndGlyphs">2040</text>
<text x="365.00" y="433.80" font-size="9.5" fill="#333" stroke="#333" stroke-width="0.2" text-anchor="middle" textLength="21.12" lengthAdjust="spacingAndGlyphs">2050</text>
<text x="299.25" y="334.80" font-size="11.6" font-weight="bold" fill="#111" stroke="#111" stroke-width="0.25" text-anchor="middle" textLength="53.98" lengthAdjust="spacingAndGlyphs">Coal CCS</text>
<line x1="398.0" y1="407.59" x2="529.5" y2="407.59" stroke="#dcdcdc" stroke-width="1"/>
<line x1="398.0" y1="394.58" x2="529.5" y2="394.58" stroke="#dcdcdc" stroke-width="1"/>
<line x1="398.0" y1="381.57" x2="529.5" y2="381.57" stroke="#dcdcdc" stroke-width="1"/>
<line x1="398.0" y1="368.56" x2="529.5" y2="368.56" stroke="#dcdcdc" stroke-width="1"/>
<line x1="398.0" y1="355.55" x2="529.5" y2="355.55" stroke="#dcdcdc" stroke-width="1"/>
<line x1="398.0" y1="342.54" x2="529.5" y2="342.54" stroke="#dcdcdc" stroke-width="1"/>
<text x="391.40" y="423.80" font-size="9.5" fill="#333" stroke="#333" stroke-width="0.2" text-anchor="end" textLength="5.28" lengthAdjust="spacingAndGlyphs">0</text>
<text x="391.40" y="410.79" font-size="9.5" fill="#333" stroke="#333" stroke-width="0.2" text-anchor="end" textLength="15.84" lengthAdjust="spacingAndGlyphs">250</text>
<text x="391.40" y="397.78" font-size="9.5" fill="#333" stroke="#333" stroke-width="0.2" text-anchor="end" textLength="15.84" lengthAdjust="spacingAndGlyphs">500</text>
<text x="391.40" y="384.77" font-size="9.5" fill="#333" stroke="#333" stroke-width="0.2" text-anchor="end" textLength="15.84" lengthAdjust="spacingAndGlyphs">750</text>
<text x="391.40" y="371.76" font-size="9.5" fill="#333" stroke="#333" stroke-width="0.2" text-anchor="end" textLength="21.12" lengthAdjust="spacingAndGlyphs">1000</text>
<text x="391.40" y="358.75" font-size="9.5" fill="#333" stroke="#333" stroke-width="0.2" text-anchor="end" textLength="21.12" lengthAdjust="spacingAndGlyphs">1250</text>
<text x="391.40" y="345.74" font-size="9.5" fill="#333" stroke="#333" stroke-width="0.2" text-anchor="end" textLength="21.12" lengthAdjust="spacingAndGlyphs">1500</text>
<clipPath id="cp22"><rect x="398.0" y="250.6" width="131.5" height="170.6"/></clipPath>
<g clip-path="url(#cp22)">
<polyline points="398.0,419.8 529.5,419.8" fill="none" stroke="#f29f25" stroke-width="1.60" stroke-linejoin="round" stroke-opacity="0.70"/>
<polyline points="444.8,420.0 454.8,417.3 464.7,415.3 529.5,414.8" fill="none" stroke="#6aa4da" stroke-width="1.00" stroke-linejoin="round"/>
<polyline points="514.6,420.0 522.0,419.3 529.5,417.8" fill="none" stroke="#a6b050" stroke-width="1.00" stroke-linejoin="round"/>
<polyline points="517.1,420.0 529.5,418.3" fill="none" stroke="#68a83a" stroke-width="2.50" stroke-linejoin="round"/>
<polyline points="398.0,420.0 444.8,420.0 454.8,418.5 464.7,414.8 529.5,414.8" fill="none" stroke="#1f7fcf" stroke-width="1.81" stroke-linejoin="round" stroke-opacity="0.55"/>
<polyline points="398.0,420.0 444.8,420.0 454.8,418.5 464.7,414.8 529.5,414.8" fill="none" stroke="#1f7fcf" stroke-width="3.30" stroke-linejoin="round" stroke-dasharray="10.7,3.8"/>
<polyline points="398.0,419.8 529.5,419.8" fill="none" stroke="#f29f25" stroke-width="1.81" stroke-linejoin="round" stroke-opacity="0.55"/>
<polyline points="398.0,419.8 529.5,419.8" fill="none" stroke="#f29f25" stroke-width="3.30" stroke-linejoin="round" stroke-dasharray="10.7,3.8"/>
</g>
<line x1="398.0" y1="420.60" x2="529.5" y2="420.60" stroke="#8a8a8a" stroke-width="1.1"/>
<line x1="407.39" y1="420.60" x2="407.39" y2="422.60" stroke="#8a8a8a" stroke-width="1"/>
<line x1="416.79" y1="420.60" x2="416.79" y2="422.60" stroke="#8a8a8a" stroke-width="1"/>
<line x1="426.18" y1="420.60" x2="426.18" y2="422.60" stroke="#8a8a8a" stroke-width="1"/>
<line x1="435.57" y1="420.60" x2="435.57" y2="424.10" stroke="#8a8a8a" stroke-width="1"/>
<line x1="444.96" y1="420.60" x2="444.96" y2="422.60" stroke="#8a8a8a" stroke-width="1"/>
<line x1="454.36" y1="420.60" x2="454.36" y2="422.60" stroke="#8a8a8a" stroke-width="1"/>
<line x1="463.75" y1="420.60" x2="463.75" y2="422.60" stroke="#8a8a8a" stroke-width="1"/>
<line x1="473.14" y1="420.60" x2="473.14" y2="422.60" stroke="#8a8a8a" stroke-width="1"/>
<line x1="482.54" y1="420.60" x2="482.54" y2="424.10" stroke="#8a8a8a" stroke-width="1"/>
<line x1="491.93" y1="420.60" x2="491.93" y2="422.60" stroke="#8a8a8a" stroke-width="1"/>
<line x1="501.32" y1="420.60" x2="501.32" y2="422.60" stroke="#8a8a8a" stroke-width="1"/>
<line x1="510.71" y1="420.60" x2="510.71" y2="422.60" stroke="#8a8a8a" stroke-width="1"/>
<line x1="520.11" y1="420.60" x2="520.11" y2="422.60" stroke="#8a8a8a" stroke-width="1"/>
<line x1="529.50" y1="420.60" x2="529.50" y2="424.10" stroke="#8a8a8a" stroke-width="1"/>
<text x="435.57" y="433.80" font-size="9.5" fill="#333" stroke="#333" stroke-width="0.2" text-anchor="middle" textLength="21.12" lengthAdjust="spacingAndGlyphs">2030</text>
<text x="482.54" y="433.80" font-size="9.5" fill="#333" stroke="#333" stroke-width="0.2" text-anchor="middle" textLength="21.12" lengthAdjust="spacingAndGlyphs">2040</text>
<text x="529.50" y="433.80" font-size="9.5" fill="#333" stroke="#333" stroke-width="0.2" text-anchor="middle" textLength="21.12" lengthAdjust="spacingAndGlyphs">2050</text>
<text x="463.75" y="334.80" font-size="11.6" font-weight="bold" fill="#111" stroke="#111" stroke-width="0.25" text-anchor="middle" textLength="84.90" lengthAdjust="spacingAndGlyphs">Biopower CCS</text>
<text transform="translate(19.9,381.20) rotate(-90)" font-size="16.2" font-weight="bold" fill="#000" stroke="#000" stroke-width="0.35" text-anchor="middle" textLength="91.00" lengthAdjust="spacingAndGlyphs">Generation</text>
<text transform="translate(36.1,381.20) rotate(-90)" font-size="16.2" font-weight="bold" fill="#000" stroke="#000" stroke-width="0.35" text-anchor="middle" textLength="90.00" lengthAdjust="spacingAndGlyphs">(TWh/year)</text>
<rect x="72.3" y="25.8" width="83.6" height="56" rx="2" ry="2" fill="#fff" fill-opacity="0.85" stroke="#d8d8d8" stroke-width="0.8"/>
<line x1="74.8" y1="32.20" x2="91.2" y2="32.20" stroke="#c8662e" stroke-width="1.9"/>
<text x="96.3" y="35.00" font-size="7.7" fill="#2a2a2a" stroke="#2a2a2a" stroke-width="0.25" textLength="24.13" lengthAdjust="spacingAndGlyphs">No IRA</text>
<line x1="74.8" y1="43.05" x2="91.2" y2="43.05" stroke="#f29f25" stroke-width="1.9"/>
<text x="96.3" y="45.85" font-size="7.7" fill="#2a2a2a" stroke="#2a2a2a" stroke-width="0.25" textLength="56.51" lengthAdjust="spacingAndGlyphs">Current Policies</text>
<line x1="74.8" y1="53.90" x2="91.2" y2="53.90" stroke="#68a83a" stroke-width="1.9"/>
<text x="96.3" y="56.70" font-size="7.7" fill="#2a2a2a" stroke="#2a2a2a" stroke-width="0.25" textLength="47.73" lengthAdjust="spacingAndGlyphs">95% by 2050</text>
<line x1="74.8" y1="64.75" x2="91.2" y2="64.75" stroke="#1f7fcf" stroke-width="1.9"/>
<text x="96.3" y="67.55" font-size="7.7" fill="#2a2a2a" stroke="#2a2a2a" stroke-width="0.25" textLength="52.31" lengthAdjust="spacingAndGlyphs">100% by 2035</text>
<line x1="74.8" y1="75.60" x2="91.2" y2="75.60" stroke="#111" stroke-width="1.9" stroke-dasharray="5,3.3"/>
<text x="96.3" y="78.40" font-size="7.7" fill="#2a2a2a" stroke="#2a2a2a" stroke-width="0.25" textLength="36.76" lengthAdjust="spacingAndGlyphs">Mid-Cases</text>
</svg></body></html>
